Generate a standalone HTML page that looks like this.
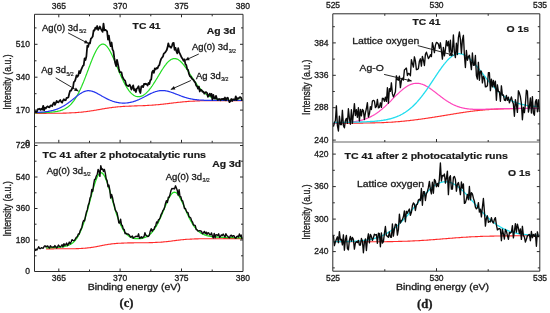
<!DOCTYPE html>
<html><head><meta charset="utf-8"><style>
html,body{margin:0;padding:0;background:#fff;width:550px;height:313px;overflow:hidden}
svg{display:block;filter:blur(0.35px)}
</style></head><body>
<svg width="550" height="313" viewBox="0 0 550 313">
<rect width="550" height="313" fill="#fff"/>
<polyline points="35.1,113.4 35.6,113.4 36.1,113.4 36.6,113.4 37.1,113.4 37.6,113.4 38.1,113.4 38.6,113.4 39.1,113.4 39.6,113.4 40.1,113.4 40.6,113.4 41.1,113.4 41.6,113.4 42.1,113.4 42.6,113.4 43.1,113.4 43.6,113.4 44.1,113.4 44.6,113.4 45.1,113.4 45.6,113.4 46.1,113.4 46.6,113.3 47.1,113.3 47.6,113.3 48.1,113.3 48.6,113.3 49.1,113.3 49.6,113.3 50.1,113.3 50.6,113.3 51.1,113.3 51.6,113.3 52.1,113.3 52.6,113.3 53.1,113.3 53.6,113.3 54.1,113.3 54.6,113.3 55.1,113.3 55.6,113.3 56.1,113.3 56.6,113.3 57.1,113.3 57.6,113.2 58.1,113.2 58.6,113.2 59.1,113.2 59.6,113.2 60.1,113.2 60.6,113.2 61.1,113.2 61.6,113.2 62.1,113.2 62.6,113.2 63.1,113.1 63.6,113.1 64.1,113.1 64.6,113.1 65.1,113.1 65.6,113.1 66.1,113.1 66.6,113.0 67.1,113.0 67.6,113.0 68.1,113.0 68.6,113.0 69.1,113.0 69.6,112.9 70.1,112.9 70.6,112.9 71.1,112.9 71.6,112.8 72.1,112.8 72.6,112.8 73.1,112.8 73.6,112.7 74.1,112.7 74.6,112.7 75.1,112.6 75.6,112.6 76.1,112.6 76.6,112.5 77.1,112.5 77.6,112.5 78.1,112.4 78.6,112.4 79.1,112.3 79.6,112.3 80.1,112.3 80.6,112.2 81.1,112.2 81.6,112.1 82.1,112.1 82.6,112.0 83.1,112.0 83.6,111.9 84.1,111.8 84.6,111.8 85.1,111.7 85.6,111.7 86.1,111.6 86.6,111.5 87.1,111.5 87.6,111.4 88.1,111.3 88.6,111.3 89.1,111.2 89.6,111.1 90.1,111.0 90.6,111.0 91.1,110.9 91.6,110.8 92.1,110.7 92.6,110.7 93.1,110.6 93.6,110.5 94.1,110.4 94.6,110.3 95.1,110.2 95.6,110.2 96.1,110.1 96.6,110.0 97.1,109.9 97.6,109.8 98.1,109.7 98.6,109.6 99.1,109.6 99.6,109.5 100.1,109.4 100.6,109.3 101.1,109.2 101.6,109.1 102.1,109.0 102.6,108.9 103.1,108.9 103.6,108.8 104.1,108.7 104.6,108.6 105.1,108.5 105.6,108.4 106.1,108.4 106.6,108.3 107.1,108.2 107.6,108.1 108.1,108.1 108.6,108.0 109.1,107.9 109.6,107.8 110.1,107.8 110.6,107.7 111.1,107.6 111.6,107.6 112.1,107.5 112.6,107.4 113.1,107.4 113.6,107.3 114.1,107.2 114.6,107.2 115.1,107.1 115.6,107.1 116.1,107.0 116.6,107.0 117.1,106.9 117.6,106.9 118.1,106.8 118.6,106.8 119.1,106.7 119.6,106.7 120.1,106.7 120.6,106.6 121.1,106.6 121.6,106.5 122.1,106.5 122.6,106.5 123.1,106.4 123.6,106.4 124.1,106.4 124.6,106.4 125.1,106.3 125.6,106.3 126.1,106.3 126.6,106.3 127.1,106.2 127.6,106.2 128.1,106.2 128.6,106.2 129.1,106.1 129.6,106.1 130.1,106.1 130.6,106.1 131.1,106.1 131.6,106.0 132.1,106.0 132.6,106.0 133.1,106.0 133.6,106.0 134.1,106.0 134.6,105.9 135.1,105.9 135.6,105.9 136.1,105.9 136.6,105.9 137.1,105.9 137.6,105.8 138.1,105.8 138.6,105.8 139.1,105.8 139.6,105.8 140.1,105.8 140.6,105.7 141.1,105.7 141.6,105.7 142.1,105.7 142.6,105.7 143.1,105.6 143.6,105.6 144.1,105.6 144.6,105.6 145.1,105.6 145.6,105.5 146.1,105.5 146.6,105.5 147.1,105.5 147.6,105.4 148.1,105.4 148.6,105.4 149.1,105.3 149.6,105.3 150.1,105.3 150.6,105.2 151.1,105.2 151.6,105.2 152.1,105.1 152.6,105.1 153.1,105.1 153.6,105.0 154.1,105.0 154.6,105.0 155.1,104.9 155.6,104.9 156.1,104.8 156.6,104.8 157.1,104.7 157.6,104.7 158.1,104.7 158.6,104.6 159.1,104.6 159.6,104.5 160.1,104.5 160.6,104.4 161.1,104.4 161.6,104.3 162.1,104.2 162.6,104.2 163.1,104.1 163.6,104.1 164.1,104.0 164.6,104.0 165.1,103.9 165.6,103.9 166.1,103.8 166.6,103.7 167.1,103.7 167.6,103.6 168.1,103.6 168.6,103.5 169.1,103.4 169.6,103.4 170.1,103.3 170.6,103.3 171.1,103.2 171.6,103.1 172.1,103.1 172.6,103.0 173.1,103.0 173.6,102.9 174.1,102.8 174.6,102.8 175.1,102.7 175.6,102.7 176.1,102.6 176.6,102.5 177.1,102.5 177.6,102.4 178.1,102.4 178.6,102.3 179.1,102.3 179.6,102.2 180.1,102.2 180.6,102.1 181.1,102.1 181.6,102.0 182.1,102.0 182.6,101.9 183.1,101.9 183.6,101.8 184.1,101.8 184.6,101.7 185.1,101.7 185.6,101.6 186.1,101.6 186.6,101.6 187.1,101.5 187.6,101.5 188.1,101.4 188.6,101.4 189.1,101.4 189.6,101.3 190.1,101.3 190.6,101.3 191.1,101.2 191.6,101.2 192.1,101.2 192.6,101.2 193.1,101.1 193.6,101.1 194.1,101.1 194.6,101.1 195.1,101.0 195.6,101.0 196.1,101.0 196.6,101.0 197.1,100.9 197.6,100.9 198.1,100.9 198.6,100.9 199.1,100.9 199.6,100.9 200.1,100.8 200.6,100.8 201.1,100.8 201.6,100.8 202.1,100.8 202.6,100.8 203.1,100.8 203.6,100.8 204.1,100.8 204.6,100.7 205.1,100.7 205.6,100.7 206.1,100.7 206.6,100.7 207.1,100.7 207.6,100.7 208.1,100.7 208.6,100.7 209.1,100.7 209.6,100.7 210.1,100.7 210.6,100.7 211.1,100.7 211.6,100.7 212.1,100.7 212.6,100.7 213.1,100.7 213.6,100.6 214.1,100.6 214.6,100.6 215.1,100.6 215.6,100.6 216.1,100.6 216.6,100.6 217.1,100.6 217.6,100.6 218.1,100.6 218.6,100.6 219.1,100.6 219.6,100.6 220.1,100.6 220.6,100.6 221.1,100.6 221.6,100.6 222.1,100.6 222.6,100.6 223.1,100.6 223.6,100.6 224.1,100.6 224.6,100.6 225.1,100.6 225.6,100.6 226.1,100.6 226.6,100.6 227.1,100.6 227.6,100.6 228.1,100.6 228.6,100.6 229.1,100.6 229.6,100.6 230.1,100.6 230.6,100.6 231.1,100.6 231.6,100.6 232.1,100.6 232.6,100.6 233.1,100.6 233.6,100.6 234.1,100.6 234.6,100.6 235.1,100.6 235.6,100.6 236.1,100.6 236.6,100.6 237.1,100.6 237.6,100.6 238.1,100.6 238.6,100.6 239.1,100.6 239.6,100.6 240.1,100.6 240.6,100.6 241.1,100.6 241.6,100.6 242.1,100.6 242.6,100.6" fill="none" stroke="#ff2a2a" stroke-width="1.1" stroke-linejoin="round"/>
<polyline points="35.1,112.8 35.6,112.8 36.1,112.8 36.6,112.8 37.1,112.8 37.6,112.7 38.1,112.7 38.6,112.7 39.1,112.7 39.6,112.7 40.1,112.7 40.6,112.7 41.1,112.7 41.6,112.6 42.1,112.6 42.6,112.6 43.1,112.6 43.6,112.6 44.1,112.6 44.6,112.5 45.1,112.5 45.6,112.5 46.1,112.5 46.6,112.4 47.1,112.4 47.6,112.4 48.1,112.4 48.6,112.3 49.1,112.3 49.6,112.3 50.1,112.2 50.6,112.2 51.1,112.2 51.6,112.1 52.1,112.1 52.6,112.0 53.1,112.0 53.6,111.9 54.1,111.9 54.6,111.8 55.1,111.7 55.6,111.7 56.1,111.6 56.6,111.5 57.1,111.4 57.6,111.3 58.1,111.2 58.6,111.1 59.1,111.0 59.6,110.9 60.1,110.7 60.6,110.6 61.1,110.4 61.6,110.2 62.1,110.1 62.6,109.9 63.1,109.7 63.6,109.5 64.1,109.2 64.6,109.0 65.1,108.7 65.6,108.4 66.1,108.2 66.6,107.8 67.1,107.5 67.6,107.2 68.1,106.8 68.6,106.4 69.1,106.0 69.6,105.5 70.1,105.1 70.6,104.6 71.1,104.1 71.6,103.5 72.1,102.9 72.6,102.3 73.1,101.7 73.6,101.1 74.1,100.4 74.6,99.7 75.1,98.9 75.6,98.2 76.1,97.3 76.6,96.5 77.1,95.6 77.6,94.7 78.1,93.8 78.6,92.9 79.1,91.9 79.6,90.8 80.1,89.8 80.6,88.7 81.1,87.6 81.6,86.5 82.1,85.3 82.6,84.1 83.1,82.9 83.6,81.7 84.1,80.4 84.6,79.2 85.1,77.9 85.6,76.6 86.1,75.3 86.6,74.0 87.1,72.6 87.6,71.3 88.1,70.0 88.6,68.6 89.1,67.3 89.6,66.0 90.1,64.6 90.6,63.3 91.1,62.0 91.6,60.8 92.1,59.5 92.6,58.3 93.1,57.1 93.6,55.9 94.1,54.8 94.6,53.7 95.1,52.7 95.6,51.7 96.1,50.7 96.6,49.8 97.1,49.0 97.6,48.2 98.1,47.5 98.6,46.8 99.1,46.2 99.6,45.7 100.1,45.2 100.6,44.9 101.1,44.6 101.6,44.3 102.1,44.2 102.6,44.1 103.1,44.1 103.6,44.2 104.1,44.3 104.6,44.5 105.1,44.8 105.6,45.2 106.1,45.6 106.6,46.1 107.1,46.7 107.6,47.3 108.1,48.0 108.6,48.7 109.1,49.5 109.6,50.4 110.1,51.3 110.6,52.2 111.1,53.2 111.6,54.2 112.1,55.3 112.6,56.4 113.1,57.5 113.6,58.6 114.1,59.8 114.6,60.9 115.1,62.1 115.6,63.3 116.1,64.5 116.6,65.7 117.1,66.9 117.6,68.1 118.1,69.3 118.6,70.5 119.1,71.7 119.6,72.9 120.1,74.1 120.6,75.2 121.1,76.3 121.6,77.4 122.1,78.5 122.6,79.6 123.1,80.6 123.6,81.7 124.1,82.6 124.6,83.6 125.1,84.5 125.6,85.4 126.1,86.3 126.6,87.1 127.1,87.9 127.6,88.7 128.1,89.4 128.6,90.1 129.1,90.8 129.6,91.4 130.1,92.0 130.6,92.6 131.1,93.1 131.6,93.6 132.1,94.0 132.6,94.4 133.1,94.8 133.6,95.2 134.1,95.5 134.6,95.8 135.1,96.0 135.6,96.2 136.1,96.4 136.6,96.5 137.1,96.6 137.6,96.7 138.1,96.7 138.6,96.7 139.1,96.7 139.6,96.7 140.1,96.6 140.6,96.4 141.1,96.3 141.6,96.1 142.1,95.9 142.6,95.7 143.1,95.4 143.6,95.1 144.1,94.7 144.6,94.4 145.1,94.0 145.6,93.6 146.1,93.1 146.6,92.7 147.1,92.2 147.6,91.7 148.1,91.1 148.6,90.6 149.1,90.0 149.6,89.4 150.1,88.7 150.6,88.1 151.1,87.4 151.6,86.7 152.1,86.0 152.6,85.2 153.1,84.5 153.6,83.7 154.1,82.9 154.6,82.2 155.1,81.4 155.6,80.5 156.1,79.7 156.6,78.9 157.1,78.1 157.6,77.2 158.1,76.4 158.6,75.6 159.1,74.7 159.6,73.9 160.1,73.1 160.6,72.2 161.1,71.4 161.6,70.6 162.1,69.8 162.6,69.0 163.1,68.3 163.6,67.5 164.1,66.8 164.6,66.1 165.1,65.4 165.6,64.8 166.1,64.1 166.6,63.5 167.1,62.9 167.6,62.4 168.1,61.9 168.6,61.4 169.1,61.0 169.6,60.6 170.1,60.2 170.6,59.8 171.1,59.5 171.6,59.3 172.1,59.1 172.6,58.9 173.1,58.7 173.6,58.7 174.1,58.6 174.6,58.6 175.1,58.6 175.6,58.7 176.1,58.8 176.6,58.9 177.1,59.1 177.6,59.3 178.1,59.6 178.6,59.9 179.1,60.3 179.6,60.6 180.1,61.0 180.6,61.5 181.1,62.0 181.6,62.5 182.1,63.0 182.6,63.6 183.1,64.2 183.6,64.8 184.1,65.4 184.6,66.1 185.1,66.8 185.6,67.5 186.1,68.2 186.6,68.9 187.1,69.6 187.6,70.4 188.1,71.2 188.6,71.9 189.1,72.7 189.6,73.5 190.1,74.3 190.6,75.0 191.1,75.8 191.6,76.6 192.1,77.4 192.6,78.2 193.1,78.9 193.6,79.7 194.1,80.5 194.6,81.2 195.1,81.9 195.6,82.7 196.1,83.4 196.6,84.1 197.1,84.8 197.6,85.4 198.1,86.1 198.6,86.7 199.1,87.3 199.6,87.9 200.1,88.5 200.6,89.1 201.1,89.7 201.6,90.2 202.1,90.7 202.6,91.2 203.1,91.7 203.6,92.2 204.1,92.6 204.6,93.1 205.1,93.5 205.6,93.9 206.1,94.2 206.6,94.6 207.1,95.0 207.6,95.3 208.1,95.6 208.6,95.9 209.1,96.2 209.6,96.5 210.1,96.7 210.6,97.0 211.1,97.2 211.6,97.4 212.1,97.6 212.6,97.8 213.1,98.0 213.6,98.2 214.1,98.3 214.6,98.5 215.1,98.6 215.6,98.8 216.1,98.9 216.6,99.0 217.1,99.1 217.6,99.2 218.1,99.3 218.6,99.4 219.1,99.5 219.6,99.6 220.1,99.6 220.6,99.7 221.1,99.8 221.6,99.8 222.1,99.9 222.6,99.9 223.1,100.0 223.6,100.0 224.1,100.0 224.6,100.1 225.1,100.1 225.6,100.1 226.1,100.2 226.6,100.2 227.1,100.2 227.6,100.2 228.1,100.3 228.6,100.3 229.1,100.3 229.6,100.3 230.1,100.3 230.6,100.3 231.1,100.3 231.6,100.4 232.1,100.4 232.6,100.4 233.1,100.4 233.6,100.4 234.1,100.4 234.6,100.4 235.1,100.4 235.6,100.4 236.1,100.4 236.6,100.4 237.1,100.4 237.6,100.4 238.1,100.4 238.6,100.4 239.1,100.4 239.6,100.4 240.1,100.4 240.6,100.4 241.1,100.4 241.6,100.4 242.1,100.4 242.6,100.5" fill="none" stroke="#22dd22" stroke-width="1.2" stroke-linejoin="round"/>
<polyline points="35.1,112.5 35.6,112.5 36.1,112.5 36.6,112.4 37.1,112.4 37.6,112.4 38.1,112.4 38.6,112.3 39.1,112.3 39.6,112.3 40.1,112.2 40.6,112.2 41.1,112.2 41.6,112.1 42.1,112.1 42.6,112.0 43.1,112.0 43.6,112.0 44.1,111.9 44.6,111.8 45.1,111.8 45.6,111.7 46.1,111.7 46.6,111.6 47.1,111.5 47.6,111.5 48.1,111.4 48.6,111.3 49.1,111.2 49.6,111.1 50.1,111.0 50.6,110.9 51.1,110.8 51.6,110.7 52.1,110.6 52.6,110.5 53.1,110.4 53.6,110.2 54.1,110.1 54.6,109.9 55.1,109.8 55.6,109.6 56.1,109.5 56.6,109.3 57.1,109.1 57.6,108.9 58.1,108.7 58.6,108.5 59.1,108.3 59.6,108.1 60.1,107.8 60.6,107.6 61.1,107.4 61.6,107.1 62.1,106.8 62.6,106.6 63.1,106.3 63.6,106.0 64.1,105.7 64.6,105.4 65.1,105.1 65.6,104.8 66.1,104.4 66.6,104.1 67.1,103.8 67.6,103.4 68.1,103.1 68.6,102.7 69.1,102.3 69.6,101.9 70.1,101.6 70.6,101.2 71.1,100.8 71.6,100.4 72.1,100.0 72.6,99.6 73.1,99.2 73.6,98.8 74.1,98.4 74.6,98.0 75.1,97.6 75.6,97.2 76.1,96.8 76.6,96.4 77.1,96.0 77.6,95.6 78.1,95.2 78.6,94.8 79.1,94.5 79.6,94.1 80.1,93.8 80.6,93.5 81.1,93.2 81.6,92.9 82.1,92.6 82.6,92.3 83.1,92.1 83.6,91.8 84.1,91.6 84.6,91.4 85.1,91.3 85.6,91.1 86.1,91.0 86.6,90.9 87.1,90.8 87.6,90.7 88.1,90.7 88.6,90.7 89.1,90.7 89.6,90.8 90.1,90.8 90.6,90.9 91.1,91.0 91.6,91.1 92.1,91.2 92.6,91.4 93.1,91.6 93.6,91.7 94.1,91.9 94.6,92.1 95.1,92.4 95.6,92.6 96.1,92.8 96.6,93.1 97.1,93.4 97.6,93.6 98.1,93.9 98.6,94.2 99.1,94.4 99.6,94.7 100.1,95.0 100.6,95.3 101.1,95.6 101.6,95.9 102.1,96.2 102.6,96.5 103.1,96.7 103.6,97.0 104.1,97.3 104.6,97.6 105.1,97.8 105.6,98.1 106.1,98.4 106.6,98.6 107.1,98.9 107.6,99.1 108.1,99.4 108.6,99.6 109.1,99.8 109.6,100.0 110.1,100.2 110.6,100.5 111.1,100.6 111.6,100.8 112.1,101.0 112.6,101.2 113.1,101.4 113.6,101.5 114.1,101.7 114.6,101.8 115.1,102.0 115.6,102.1 116.1,102.2 116.6,102.3 117.1,102.4 117.6,102.5 118.1,102.6 118.6,102.7 119.1,102.8 119.6,102.8 120.1,102.9 120.6,103.0 121.1,103.0 121.6,103.0 122.1,103.1 122.6,103.1 123.1,103.1 123.6,103.1 124.1,103.1 124.6,103.1 125.1,103.1 125.6,103.0 126.1,103.0 126.6,103.0 127.1,102.9 127.6,102.9 128.1,102.8 128.6,102.7 129.1,102.6 129.6,102.5 130.1,102.4 130.6,102.3 131.1,102.2 131.6,102.1 132.1,102.0 132.6,101.9 133.1,101.7 133.6,101.6 134.1,101.4 134.6,101.2 135.1,101.1 135.6,100.9 136.1,100.7 136.6,100.5 137.1,100.3 137.6,100.1 138.1,99.9 138.6,99.7 139.1,99.5 139.6,99.2 140.1,99.0 140.6,98.8 141.1,98.5 141.6,98.3 142.1,98.0 142.6,97.8 143.1,97.5 143.6,97.2 144.1,97.0 144.6,96.7 145.1,96.5 145.6,96.2 146.1,95.9 146.6,95.7 147.1,95.4 147.6,95.1 148.1,94.9 148.6,94.6 149.1,94.4 149.6,94.1 150.1,93.9 150.6,93.6 151.1,93.4 151.6,93.2 152.1,93.0 152.6,92.8 153.1,92.5 153.6,92.3 154.1,92.2 154.6,92.0 155.1,91.8 155.6,91.6 156.1,91.5 156.6,91.4 157.1,91.2 157.6,91.1 158.1,91.0 158.6,90.9 159.1,90.8 159.6,90.7 160.1,90.7 160.6,90.6 161.1,90.6 161.6,90.6 162.1,90.6 162.6,90.6 163.1,90.6 163.6,90.6 164.1,90.6 164.6,90.7 165.1,90.7 165.6,90.8 166.1,90.9 166.6,91.0 167.1,91.1 167.6,91.2 168.1,91.3 168.6,91.4 169.1,91.6 169.6,91.7 170.1,91.9 170.6,92.0 171.1,92.2 171.6,92.4 172.1,92.5 172.6,92.7 173.1,92.9 173.6,93.1 174.1,93.3 174.6,93.5 175.1,93.7 175.6,93.9 176.1,94.1 176.6,94.3 177.1,94.5 177.6,94.6 178.1,94.8 178.6,95.0 179.1,95.2 179.6,95.4 180.1,95.6 180.6,95.8 181.1,96.0 181.6,96.2 182.1,96.4 182.6,96.6 183.1,96.7 183.6,96.9 184.1,97.1 184.6,97.2 185.1,97.4 185.6,97.5 186.1,97.7 186.6,97.8 187.1,98.0 187.6,98.1 188.1,98.2 188.6,98.4 189.1,98.5 189.6,98.6 190.1,98.7 190.6,98.8 191.1,98.9 191.6,99.0 192.1,99.1 192.6,99.2 193.1,99.3 193.6,99.3 194.1,99.4 194.6,99.5 195.1,99.6 195.6,99.6 196.1,99.7 196.6,99.7 197.1,99.8 197.6,99.8 198.1,99.9 198.6,99.9 199.1,100.0 199.6,100.0 200.1,100.0 200.6,100.1 201.1,100.1 201.6,100.1 202.1,100.2 202.6,100.2 203.1,100.2 203.6,100.2 204.1,100.3 204.6,100.3 205.1,100.3 205.6,100.3 206.1,100.3 206.6,100.3 207.1,100.3 207.6,100.4 208.1,100.4 208.6,100.4 209.1,100.4 209.6,100.4 210.1,100.4 210.6,100.4 211.1,100.4 211.6,100.4 212.1,100.4 212.6,100.4 213.1,100.4 213.6,100.4 214.1,100.4 214.6,100.4 215.1,100.5 215.6,100.5 216.1,100.5 216.6,100.5 217.1,100.5 217.6,100.5 218.1,100.5 218.6,100.5 219.1,100.5 219.6,100.5 220.1,100.5 220.6,100.5 221.1,100.5 221.6,100.5 222.1,100.5 222.6,100.5 223.1,100.5 223.6,100.5 224.1,100.5 224.6,100.5 225.1,100.5 225.6,100.5 226.1,100.5 226.6,100.5 227.1,100.5 227.6,100.5 228.1,100.5 228.6,100.5 229.1,100.5 229.6,100.5 230.1,100.5 230.6,100.5 231.1,100.5 231.6,100.5 232.1,100.5 232.6,100.5 233.1,100.5 233.6,100.5 234.1,100.5 234.6,100.5 235.1,100.5 235.6,100.5 236.1,100.5 236.6,100.5 237.1,100.5 237.6,100.5 238.1,100.5 238.6,100.5 239.1,100.5 239.6,100.5 240.1,100.5 240.6,100.5 241.1,100.5 241.6,100.5 242.1,100.5 242.6,100.5" fill="none" stroke="#2233ee" stroke-width="1.2" stroke-linejoin="round"/>
<polyline points="35.1,110.6 36.0,112.2 36.9,111.8 37.8,109.2 38.7,109.2 39.6,108.7 40.5,109.9 41.4,108.8 42.3,109.6 43.2,105.8 44.1,110.2 45.0,107.6 45.9,108.4 46.8,106.9 47.7,106.3 48.6,107.2 49.5,107.4 50.4,105.6 51.3,105.3 52.2,106.2 53.1,103.7 54.0,102.4 54.9,104.9 55.8,103.1 56.7,100.9 57.6,102.2 58.5,102.4 59.4,100.9 60.3,100.0 61.2,101.9 62.1,102.7 63.0,100.5 63.9,99.2 64.8,100.3 65.7,100.2 66.6,97.8 67.5,97.9 68.4,97.2 69.3,93.5 70.2,90.6 71.1,90.7 72.0,88.6 72.9,88.3 73.8,82.2 74.7,81.4 75.6,79.1 76.5,75.3 77.4,76.8 78.3,75.5 79.2,71.0 80.1,73.2 81.0,70.2 81.9,68.1 82.8,66.0 83.7,65.3 84.6,58.4 85.5,60.1 86.4,56.2 87.3,45.7 88.2,46.8 89.1,42.9 90.0,43.3 90.9,38.6 91.8,37.8 92.7,36.5 93.6,30.4 94.5,30.6 95.4,27.6 96.3,28.8 97.2,26.0 98.1,29.9 99.0,28.6 99.9,26.5 100.8,28.6 101.7,30.4 102.6,31.9 103.5,23.7 104.4,30.3 105.3,29.8 106.2,30.4 107.1,31.3 108.0,39.6 108.9,35.7 109.8,42.2 110.7,46.2 111.6,42.5 112.5,49.4 113.4,51.1 114.3,57.9 115.2,63.1 116.1,66.1 117.0,59.8 117.9,64.0 118.8,68.4 119.7,72.2 120.6,72.1 121.5,72.3 122.4,76.8 123.3,78.4 124.2,79.9 125.1,80.6 126.0,84.3 126.9,85.5 127.8,85.8 128.7,86.1 129.6,84.6 130.5,86.4 131.4,89.6 132.3,87.4 133.2,85.4 134.1,90.4 135.0,89.1 135.9,92.0 136.8,88.6 137.7,87.8 138.6,86.2 139.5,91.0 140.4,93.0 141.3,86.4 142.2,85.9 143.1,87.2 144.0,83.9 144.9,84.3 145.8,83.7 146.7,84.3 147.6,85.5 148.5,83.0 149.4,84.0 150.3,80.3 151.2,79.6 152.1,72.2 153.0,70.7 153.9,72.8 154.8,68.4 155.7,69.3 156.6,68.0 157.5,68.4 158.4,66.1 159.3,65.2 160.2,61.6 161.1,59.0 162.0,57.6 162.9,56.7 163.8,53.6 164.7,52.8 165.6,51.8 166.5,50.6 167.4,47.9 168.3,43.3 169.2,46.6 170.1,46.5 171.0,47.8 171.9,46.1 172.8,43.0 173.7,42.9 174.6,49.8 175.5,47.8 176.4,51.4 177.3,53.4 178.2,48.1 179.1,52.2 180.0,53.9 180.9,55.9 181.8,57.8 182.7,59.0 183.6,60.8 184.5,59.3 185.4,64.2 186.3,65.2 187.2,69.1 188.1,69.9 189.0,74.0 189.9,76.2 190.8,76.8 191.7,78.4 192.6,79.4 193.5,79.8 194.4,81.7 195.3,82.5 196.2,85.5 197.1,86.3 198.0,88.6 198.9,86.6 199.8,91.5 200.7,89.6 201.6,90.3 202.5,91.8 203.4,91.7 204.3,93.6 205.2,92.6 206.1,92.1 207.0,92.9 207.9,96.8 208.8,95.1 209.7,93.6 210.6,95.9 211.5,93.8 212.4,99.6 213.3,94.8 214.2,98.3 215.1,98.7 216.0,95.8 216.9,98.8 217.8,100.0 218.7,99.2 219.6,99.0 220.5,100.2 221.4,99.0 222.3,99.3 223.2,98.6 224.1,99.9 225.0,97.5 225.9,100.3 226.8,98.3 227.7,97.6 228.6,100.0 229.5,102.2 230.4,101.2 231.3,99.0 232.2,101.0 233.1,99.2 234.0,99.7 234.9,100.0 235.8,96.3 236.7,100.1 237.6,98.2 238.5,98.7 239.4,97.4 240.3,97.2 241.2,98.0 242.1,100.6" fill="none" stroke="#0a0a0a" stroke-width="1.75" stroke-linejoin="round"/>
<polyline points="46.1,248.9 46.6,248.9 47.1,248.9 47.6,248.9 48.1,248.9 48.6,248.9 49.1,248.9 49.6,248.9 50.1,248.9 50.6,248.9 51.1,248.9 51.6,248.9 52.1,248.9 52.6,248.9 53.1,248.9 53.6,248.9 54.1,248.8 54.6,248.8 55.1,248.8 55.6,248.8 56.1,248.8 56.6,248.8 57.1,248.8 57.6,248.8 58.1,248.8 58.6,248.8 59.1,248.8 59.6,248.8 60.1,248.8 60.6,248.8 61.1,248.8 61.6,248.8 62.1,248.8 62.6,248.8 63.1,248.8 63.6,248.8 64.1,248.8 64.6,248.8 65.1,248.8 65.6,248.8 66.1,248.8 66.6,248.8 67.1,248.8 67.6,248.8 68.1,248.8 68.6,248.8 69.1,248.8 69.6,248.8 70.1,248.8 70.6,248.7 71.1,248.7 71.6,248.7 72.1,248.7 72.6,248.7 73.1,248.7 73.6,248.7 74.1,248.7 74.6,248.7 75.1,248.7 75.6,248.7 76.1,248.6 76.6,248.6 77.1,248.6 77.6,248.6 78.1,248.6 78.6,248.6 79.1,248.5 79.6,248.5 80.1,248.5 80.6,248.5 81.1,248.5 81.6,248.4 82.1,248.4 82.6,248.4 83.1,248.3 83.6,248.3 84.1,248.3 84.6,248.2 85.1,248.2 85.6,248.1 86.1,248.1 86.6,248.0 87.1,248.0 87.6,247.9 88.1,247.9 88.6,247.8 89.1,247.8 89.6,247.7 90.1,247.6 90.6,247.6 91.1,247.5 91.6,247.4 92.1,247.4 92.6,247.3 93.1,247.2 93.6,247.1 94.1,247.0 94.6,247.0 95.1,246.9 95.6,246.8 96.1,246.7 96.6,246.6 97.1,246.5 97.6,246.4 98.1,246.3 98.6,246.2 99.1,246.1 99.6,246.0 100.1,245.9 100.6,245.8 101.1,245.7 101.6,245.6 102.1,245.5 102.6,245.4 103.1,245.3 103.6,245.2 104.1,245.1 104.6,245.0 105.1,244.9 105.6,244.8 106.1,244.8 106.6,244.7 107.1,244.6 107.6,244.5 108.1,244.4 108.6,244.3 109.1,244.3 109.6,244.2 110.1,244.1 110.6,244.1 111.1,244.0 111.6,243.9 112.1,243.9 112.6,243.8 113.1,243.8 113.6,243.7 114.1,243.6 114.6,243.6 115.1,243.6 115.6,243.5 116.1,243.5 116.6,243.4 117.1,243.4 117.6,243.4 118.1,243.3 118.6,243.3 119.1,243.3 119.6,243.2 120.1,243.2 120.6,243.2 121.1,243.2 121.6,243.1 122.1,243.1 122.6,243.1 123.1,243.1 123.6,243.1 124.1,243.0 124.6,243.0 125.1,243.0 125.6,243.0 126.1,243.0 126.6,243.0 127.1,243.0 127.6,242.9 128.1,242.9 128.6,242.9 129.1,242.9 129.6,242.9 130.1,242.9 130.6,242.9 131.1,242.9 131.6,242.9 132.1,242.9 132.6,242.9 133.1,242.9 133.6,242.9 134.1,242.8 134.6,242.8 135.1,242.8 135.6,242.8 136.1,242.8 136.6,242.8 137.1,242.8 137.6,242.8 138.1,242.8 138.6,242.8 139.1,242.8 139.6,242.8 140.1,242.8 140.6,242.8 141.1,242.8 141.6,242.8 142.1,242.8 142.6,242.7 143.1,242.7 143.6,242.7 144.1,242.7 144.6,242.7 145.1,242.7 145.6,242.7 146.1,242.7 146.6,242.7 147.1,242.7 147.6,242.7 148.1,242.7 148.6,242.7 149.1,242.6 149.6,242.6 150.1,242.6 150.6,242.6 151.1,242.6 151.6,242.6 152.1,242.6 152.6,242.6 153.1,242.5 153.6,242.5 154.1,242.5 154.6,242.5 155.1,242.5 155.6,242.4 156.1,242.4 156.6,242.4 157.1,242.4 157.6,242.3 158.1,242.3 158.6,242.3 159.1,242.3 159.6,242.2 160.1,242.2 160.6,242.2 161.1,242.1 161.6,242.1 162.1,242.1 162.6,242.0 163.1,242.0 163.6,241.9 164.1,241.9 164.6,241.8 165.1,241.8 165.6,241.7 166.1,241.7 166.6,241.6 167.1,241.6 167.6,241.5 168.1,241.5 168.6,241.4 169.1,241.4 169.6,241.3 170.1,241.2 170.6,241.2 171.1,241.1 171.6,241.0 172.1,241.0 172.6,240.9 173.1,240.8 173.6,240.8 174.1,240.7 174.6,240.6 175.1,240.6 175.6,240.5 176.1,240.4 176.6,240.4 177.1,240.3 177.6,240.3 178.1,240.2 178.6,240.1 179.1,240.1 179.6,240.0 180.1,240.0 180.6,239.9 181.1,239.8 181.6,239.8 182.1,239.7 182.6,239.7 183.1,239.6 183.6,239.6 184.1,239.5 184.6,239.5 185.1,239.5 185.6,239.4 186.1,239.4 186.6,239.3 187.1,239.3 187.6,239.3 188.1,239.2 188.6,239.2 189.1,239.2 189.6,239.2 190.1,239.1 190.6,239.1 191.1,239.1 191.6,239.1 192.1,239.0 192.6,239.0 193.1,239.0 193.6,239.0 194.1,239.0 194.6,238.9 195.1,238.9 195.6,238.9 196.1,238.9 196.6,238.9 197.1,238.9 197.6,238.9 198.1,238.9 198.6,238.8 199.1,238.8 199.6,238.8 200.1,238.8 200.6,238.8 201.1,238.8 201.6,238.8 202.1,238.8 202.6,238.8 203.1,238.8 203.6,238.8 204.1,238.8 204.6,238.8 205.1,238.8 205.6,238.7 206.1,238.7 206.6,238.7 207.1,238.7 207.6,238.7 208.1,238.7 208.6,238.7 209.1,238.7 209.6,238.7 210.1,238.7 210.6,238.7 211.1,238.7 211.6,238.7 212.1,238.7 212.6,238.7 213.1,238.7 213.6,238.7 214.1,238.7 214.6,238.7 215.1,238.7 215.6,238.7 216.1,238.7 216.6,238.7 217.1,238.7 217.6,238.7 218.1,238.7 218.6,238.7 219.1,238.7 219.6,238.7 220.1,238.7 220.6,238.7 221.1,238.7 221.6,238.7 222.1,238.7 222.6,238.7 223.1,238.7 223.6,238.6 224.1,238.6 224.6,238.6 225.1,238.6 225.6,238.6 226.1,238.6 226.6,238.6 227.1,238.6 227.6,238.6 228.1,238.6 228.6,238.6 229.1,238.6 229.6,238.6 230.1,238.6 230.6,238.6 231.1,238.6 231.6,238.6 232.1,238.6 232.6,238.6 233.1,238.6 233.6,238.6 234.1,238.6 234.6,238.6 235.1,238.6 235.6,238.6 236.1,238.6 236.6,238.6 237.1,238.6 237.6,238.6 238.1,238.6 238.6,238.6 239.1,238.6 239.6,238.6 240.1,238.6 240.6,238.6 241.1,238.6 241.6,238.6 242.1,238.6 242.6,238.6" fill="none" stroke="#ff2a2a" stroke-width="1.1" stroke-linejoin="round"/>
<polyline points="46.1,247.9 46.6,247.9 47.1,247.9 47.6,247.9 48.1,247.8 48.6,247.8 49.1,247.8 49.6,247.8 50.1,247.8 50.6,247.7 51.1,247.7 51.6,247.7 52.1,247.7 52.6,247.6 53.1,247.6 53.6,247.6 54.1,247.6 54.6,247.5 55.1,247.5 55.6,247.5 56.1,247.4 56.6,247.4 57.1,247.4 57.6,247.3 58.1,247.3 58.6,247.3 59.1,247.2 59.6,247.2 60.1,247.1 60.6,247.1 61.1,247.0 61.6,246.9 62.1,246.9 62.6,246.8 63.1,246.7 63.6,246.6 64.1,246.5 64.6,246.4 65.1,246.3 65.6,246.2 66.1,246.1 66.6,245.9 67.1,245.8 67.6,245.6 68.1,245.4 68.6,245.2 69.1,245.0 69.6,244.8 70.1,244.5 70.6,244.3 71.1,244.0 71.6,243.6 72.1,243.3 72.6,242.9 73.1,242.5 73.6,242.0 74.1,241.5 74.6,241.0 75.1,240.4 75.6,239.8 76.1,239.2 76.6,238.5 77.1,237.8 77.6,237.0 78.1,236.1 78.6,235.2 79.1,234.3 79.6,233.3 80.1,232.2 80.6,231.1 81.1,229.9 81.6,228.7 82.1,227.4 82.6,226.1 83.1,224.7 83.6,223.2 84.1,221.7 84.6,220.1 85.1,218.5 85.6,216.8 86.1,215.1 86.6,213.4 87.1,211.6 87.6,209.8 88.1,207.9 88.6,206.0 89.1,204.1 89.6,202.2 90.1,200.3 90.6,198.4 91.1,196.5 91.6,194.6 92.1,192.7 92.6,190.9 93.1,189.1 93.6,187.4 94.1,185.7 94.6,184.0 95.1,182.5 95.6,181.0 96.1,179.7 96.6,178.4 97.1,177.2 97.6,176.2 98.1,175.3 98.6,174.5 99.1,173.9 99.6,173.4 100.1,173.0 100.6,172.8 101.1,172.7 101.6,172.8 102.1,173.1 102.6,173.4 103.1,174.0 103.6,174.6 104.1,175.4 104.6,176.3 105.1,177.3 105.6,178.5 106.1,179.7 106.6,181.0 107.1,182.4 107.6,183.9 108.1,185.4 108.6,187.0 109.1,188.7 109.6,190.4 110.1,192.1 110.6,193.9 111.1,195.6 111.6,197.4 112.1,199.2 112.6,200.9 113.1,202.7 113.6,204.4 114.1,206.1 114.6,207.8 115.1,209.5 115.6,211.1 116.1,212.7 116.6,214.2 117.1,215.7 117.6,217.2 118.1,218.6 118.6,219.9 119.1,221.2 119.6,222.4 120.1,223.6 120.6,224.7 121.1,225.8 121.6,226.8 122.1,227.8 122.6,228.7 123.1,229.5 123.6,230.4 124.1,231.1 124.6,231.8 125.1,232.5 125.6,233.1 126.1,233.7 126.6,234.2 127.1,234.7 127.6,235.1 128.1,235.5 128.6,235.9 129.1,236.3 129.6,236.6 130.1,236.9 130.6,237.1 131.1,237.4 131.6,237.6 132.1,237.8 132.6,238.0 133.1,238.1 133.6,238.2 134.1,238.4 134.6,238.5 135.1,238.5 135.6,238.6 136.1,238.7 136.6,238.7 137.1,238.7 137.6,238.7 138.1,238.7 138.6,238.7 139.1,238.7 139.6,238.6 140.1,238.6 140.6,238.5 141.1,238.5 141.6,238.4 142.1,238.3 142.6,238.2 143.1,238.0 143.6,237.9 144.1,237.7 144.6,237.5 145.1,237.3 145.6,237.1 146.1,236.9 146.6,236.6 147.1,236.3 147.6,236.0 148.1,235.7 148.6,235.4 149.1,235.0 149.6,234.6 150.1,234.1 150.6,233.7 151.1,233.2 151.6,232.7 152.1,232.1 152.6,231.5 153.1,230.9 153.6,230.2 154.1,229.5 154.6,228.8 155.1,228.0 155.6,227.2 156.1,226.4 156.6,225.5 157.1,224.6 157.6,223.7 158.1,222.7 158.6,221.7 159.1,220.7 159.6,219.6 160.1,218.5 160.6,217.4 161.1,216.2 161.6,215.1 162.1,213.9 162.6,212.7 163.1,211.5 163.6,210.2 164.1,209.0 164.6,207.8 165.1,206.6 165.6,205.4 166.1,204.2 166.6,203.0 167.1,201.9 167.6,200.8 168.1,199.7 168.6,198.7 169.1,197.7 169.6,196.8 170.1,196.0 170.6,195.2 171.1,194.5 171.6,193.9 172.1,193.4 172.6,193.0 173.1,192.6 173.6,192.4 174.1,192.3 174.6,192.2 175.1,192.3 175.6,192.5 176.1,192.7 176.6,193.1 177.1,193.6 177.6,194.1 178.1,194.7 178.6,195.4 179.1,196.2 179.6,197.0 180.1,197.9 180.6,198.9 181.1,199.9 181.6,200.9 182.1,202.0 182.6,203.1 183.1,204.2 183.6,205.3 184.1,206.4 184.6,207.6 185.1,208.7 185.6,209.9 186.1,211.0 186.6,212.2 187.1,213.3 187.6,214.4 188.1,215.5 188.6,216.5 189.1,217.6 189.6,218.6 190.1,219.5 190.6,220.5 191.1,221.4 191.6,222.3 192.1,223.2 192.6,224.0 193.1,224.8 193.6,225.5 194.1,226.3 194.6,227.0 195.1,227.6 195.6,228.2 196.1,228.8 196.6,229.4 197.1,229.9 197.6,230.4 198.1,230.9 198.6,231.3 199.1,231.8 199.6,232.2 200.1,232.5 200.6,232.9 201.1,233.2 201.6,233.5 202.1,233.8 202.6,234.0 203.1,234.3 203.6,234.5 204.1,234.7 204.6,234.9 205.1,235.1 205.6,235.2 206.1,235.4 206.6,235.5 207.1,235.7 207.6,235.8 208.1,235.9 208.6,236.0 209.1,236.1 209.6,236.2 210.1,236.3 210.6,236.4 211.1,236.4 211.6,236.5 212.1,236.6 212.6,236.6 213.1,236.7 213.6,236.7 214.1,236.8 214.6,236.8 215.1,236.9 215.6,236.9 216.1,237.0 216.6,237.0 217.1,237.0 217.6,237.1 218.1,237.1 218.6,237.1 219.1,237.2 219.6,237.2 220.1,237.2 220.6,237.3 221.1,237.3 221.6,237.3 222.1,237.3 222.6,237.3 223.1,237.4 223.6,237.4 224.1,237.4 224.6,237.4 225.1,237.4 225.6,237.5 226.1,237.5 226.6,237.5 227.1,237.5 227.6,237.5 228.1,237.6 228.6,237.6 229.1,237.6 229.6,237.6 230.1,237.6 230.6,237.6 231.1,237.6 231.6,237.7 232.1,237.7 232.6,237.7 233.1,237.7 233.6,237.7 234.1,237.7 234.6,237.7 235.1,237.7 235.6,237.8 236.1,237.8 236.6,237.8 237.1,237.8 237.6,237.8 238.1,237.8 238.6,237.8 239.1,237.8 239.6,237.8 240.1,237.8 240.6,237.9 241.1,237.9 241.6,237.9 242.1,237.9 242.6,237.9" fill="none" stroke="#22dd22" stroke-width="1.3" stroke-linejoin="round"/>
<polyline points="35.1,250.9 36.0,249.1 36.9,250.0 37.8,248.5 38.7,246.7 39.6,248.5 40.5,248.6 41.4,247.6 42.3,248.1 43.2,248.2 44.1,246.6 45.0,245.8 45.9,246.9 46.8,246.2 47.7,246.0 48.6,247.3 49.5,248.1 50.4,245.8 51.3,246.9 52.2,247.1 53.1,246.9 54.0,247.2 54.9,245.6 55.8,246.7 56.7,248.0 57.6,246.7 58.5,245.1 59.4,246.3 60.3,246.9 61.2,245.9 62.1,244.8 63.0,246.9 63.9,243.7 64.8,245.4 65.7,244.7 66.6,243.1 67.5,245.5 68.4,244.2 69.3,242.1 70.2,243.6 71.1,242.0 72.0,239.7 72.9,240.3 73.8,240.6 74.7,240.1 75.6,238.5 76.5,237.2 77.4,236.4 78.3,234.0 79.2,234.1 80.1,230.9 81.0,229.1 81.9,227.2 82.8,222.5 83.7,220.4 84.6,220.9 85.5,216.2 86.4,212.1 87.3,209.9 88.2,205.2 89.1,203.1 90.0,198.0 90.9,196.2 91.8,189.4 92.7,191.5 93.6,184.7 94.5,179.5 95.4,179.2 96.3,176.0 97.2,174.5 98.1,169.4 99.0,170.8 99.9,176.4 100.8,165.6 101.7,169.3 102.6,168.9 103.5,171.5 104.4,169.4 105.3,173.1 106.2,178.9 107.1,180.6 108.0,186.7 108.9,185.1 109.8,189.9 110.7,198.1 111.6,194.5 112.5,197.5 113.4,202.2 114.3,205.2 115.2,209.7 116.1,211.4 117.0,212.7 117.9,216.8 118.8,222.9 119.7,223.1 120.6,219.2 121.5,224.9 122.4,225.6 123.3,229.2 124.2,229.5 125.1,233.5 126.0,233.3 126.9,234.1 127.8,234.0 128.7,234.4 129.6,235.5 130.5,237.2 131.4,236.7 132.3,235.9 133.2,238.2 134.1,237.1 135.0,236.9 135.9,236.2 136.8,236.5 137.7,236.5 138.6,233.8 139.5,238.4 140.4,237.8 141.3,236.7 142.2,238.0 143.1,237.1 144.0,236.7 144.9,232.8 145.8,235.2 146.7,235.7 147.6,236.6 148.5,236.3 149.4,235.1 150.3,230.9 151.2,228.7 152.1,231.4 153.0,229.6 153.9,229.6 154.8,226.8 155.7,225.9 156.6,221.9 157.5,223.0 158.4,219.9 159.3,219.3 160.2,217.5 161.1,214.5 162.0,213.1 162.9,210.4 163.8,209.5 164.7,206.9 165.6,202.9 166.5,200.6 167.4,202.6 168.3,197.3 169.2,197.2 170.1,194.1 171.0,190.5 171.9,188.5 172.8,188.9 173.7,188.4 174.6,188.9 175.5,185.8 176.4,188.1 177.3,190.5 178.2,195.2 179.1,189.7 180.0,196.7 180.9,196.8 181.8,200.5 182.7,200.9 183.6,204.4 184.5,208.5 185.4,208.5 186.3,210.7 187.2,212.6 188.1,212.8 189.0,216.7 189.9,217.3 190.8,218.1 191.7,220.9 192.6,222.2 193.5,225.0 194.4,225.1 195.3,225.6 196.2,229.5 197.1,229.8 198.0,231.0 198.9,230.9 199.8,230.7 200.7,230.9 201.6,231.6 202.5,233.7 203.4,233.0 204.3,231.4 205.2,233.6 206.1,232.1 207.0,234.4 207.9,232.8 208.8,233.0 209.7,234.9 210.6,234.8 211.5,232.9 212.4,236.1 213.3,237.9 214.2,233.4 215.1,237.7 216.0,234.6 216.9,234.9 217.8,235.4 218.7,233.8 219.6,237.3 220.5,236.4 221.4,234.9 222.3,235.5 223.2,234.0 224.1,235.5 225.0,237.1 225.9,233.8 226.8,235.5 227.7,236.2 228.6,237.4 229.5,237.8 230.4,235.6 231.3,235.2 232.2,236.7 233.1,235.7 234.0,235.8 234.9,237.6 235.8,238.3 236.7,236.6 237.6,236.1 238.5,237.0 239.4,234.0 240.3,236.3 241.2,235.1 242.1,239.3" fill="none" stroke="#0a0a0a" stroke-width="1.4" stroke-linejoin="round"/>
<line x1="34.5" y1="14.3" x2="243.0" y2="14.3" stroke="#2a2a2a" stroke-width="1.0"/>
<line x1="34.5" y1="271.5" x2="243.0" y2="271.5" stroke="#2a2a2a" stroke-width="1.0"/>
<line x1="34.5" y1="14.3" x2="34.5" y2="271.5" stroke="#2a2a2a" stroke-width="1.0"/>
<line x1="243.0" y1="14.3" x2="243.0" y2="271.5" stroke="#2a2a2a" stroke-width="1.0"/>
<line x1="34.5" y1="142.8" x2="243.0" y2="142.8" stroke="#666" stroke-width="1.2"/>
<path d="M58.8,14.3v3M120.1,14.3v3M181.5,14.3v3M89.5,14.3v2M150.8,14.3v2M212.2,14.3v2" stroke="#2a2a2a" stroke-width="1" fill="none"/>
<path d="M58.8,142.8v-3M120.1,142.8v-3M181.5,142.8v-3M89.5,142.8v-2M150.8,142.8v-2M212.2,142.8v-2" stroke="#2a2a2a" stroke-width="1" fill="none"/>
<path d="M58.8,271.5v-3M120.1,271.5v-3M181.5,271.5v-3M89.5,271.5v-2M150.8,271.5v-2M212.2,271.5v-2" stroke="#2a2a2a" stroke-width="1" fill="none"/>
<path d="M34.5,110.1h3M243.0,110.1h-3M34.5,77.2h3M243.0,77.2h-3M34.5,44.3h3M243.0,44.3h-3M34.5,126.6h2M243.0,126.6h-2M34.5,93.7h2M243.0,93.7h-2M34.5,60.8h2M243.0,60.8h-2M34.5,27.9h2M243.0,27.9h-2" stroke="#2a2a2a" stroke-width="1" fill="none"/>
<path d="M34.5,240.0h3M243.0,240.0h-3M34.5,208.5h3M243.0,208.5h-3M34.5,177.0h3M243.0,177.0h-3M34.5,145.5h3M243.0,145.5h-3M34.5,255.8h2M243.0,255.8h-2M34.5,224.2h2M243.0,224.2h-2M34.5,192.8h2M243.0,192.8h-2M34.5,161.2h2M243.0,161.2h-2" stroke="#2a2a2a" stroke-width="1" fill="none"/>
<text transform="translate(58.8,8.7) scale(1.000,1)" font-family="Liberation Sans" font-size="8.50" font-weight="normal" text-anchor="middle" fill="#1a1a1a" stroke="#1a1a1a" stroke-width="0.3">365</text>
<text transform="translate(58.8,281.0) scale(1.000,1)" font-family="Liberation Sans" font-size="8.50" font-weight="normal" text-anchor="middle" fill="#1a1a1a" stroke="#1a1a1a" stroke-width="0.3">365</text>
<text transform="translate(120.1,8.7) scale(1.000,1)" font-family="Liberation Sans" font-size="8.50" font-weight="normal" text-anchor="middle" fill="#1a1a1a" stroke="#1a1a1a" stroke-width="0.3">370</text>
<text transform="translate(120.1,281.0) scale(1.000,1)" font-family="Liberation Sans" font-size="8.50" font-weight="normal" text-anchor="middle" fill="#1a1a1a" stroke="#1a1a1a" stroke-width="0.3">370</text>
<text transform="translate(181.5,8.7) scale(1.000,1)" font-family="Liberation Sans" font-size="8.50" font-weight="normal" text-anchor="middle" fill="#1a1a1a" stroke="#1a1a1a" stroke-width="0.3">375</text>
<text transform="translate(181.5,281.0) scale(1.000,1)" font-family="Liberation Sans" font-size="8.50" font-weight="normal" text-anchor="middle" fill="#1a1a1a" stroke="#1a1a1a" stroke-width="0.3">375</text>
<text transform="translate(242.8,8.7) scale(1.000,1)" font-family="Liberation Sans" font-size="8.50" font-weight="normal" text-anchor="middle" fill="#1a1a1a" stroke="#1a1a1a" stroke-width="0.3">380</text>
<text transform="translate(242.8,281.0) scale(1.000,1)" font-family="Liberation Sans" font-size="8.50" font-weight="normal" text-anchor="middle" fill="#1a1a1a" stroke="#1a1a1a" stroke-width="0.3">380</text>
<text transform="translate(30.0,145.6) scale(1.000,1)" font-family="Liberation Sans" font-size="8.50" font-weight="normal" text-anchor="end" fill="#1a1a1a" stroke="#1a1a1a" stroke-width="0.3">0</text>
<text transform="translate(30.0,112.7) scale(1.000,1)" font-family="Liberation Sans" font-size="8.50" font-weight="normal" text-anchor="end" fill="#1a1a1a" stroke="#1a1a1a" stroke-width="0.3">170</text>
<text transform="translate(30.0,79.8) scale(1.000,1)" font-family="Liberation Sans" font-size="8.50" font-weight="normal" text-anchor="end" fill="#1a1a1a" stroke="#1a1a1a" stroke-width="0.3">340</text>
<text transform="translate(30.0,46.9) scale(1.000,1)" font-family="Liberation Sans" font-size="8.50" font-weight="normal" text-anchor="end" fill="#1a1a1a" stroke="#1a1a1a" stroke-width="0.3">510</text>
<text transform="translate(30.0,274.1) scale(1.000,1)" font-family="Liberation Sans" font-size="8.50" font-weight="normal" text-anchor="end" fill="#1a1a1a" stroke="#1a1a1a" stroke-width="0.3">0</text>
<text transform="translate(30.0,242.6) scale(1.000,1)" font-family="Liberation Sans" font-size="8.50" font-weight="normal" text-anchor="end" fill="#1a1a1a" stroke="#1a1a1a" stroke-width="0.3">180</text>
<text transform="translate(30.0,211.1) scale(1.000,1)" font-family="Liberation Sans" font-size="8.50" font-weight="normal" text-anchor="end" fill="#1a1a1a" stroke="#1a1a1a" stroke-width="0.3">360</text>
<text transform="translate(30.0,179.6) scale(1.000,1)" font-family="Liberation Sans" font-size="8.50" font-weight="normal" text-anchor="end" fill="#1a1a1a" stroke="#1a1a1a" stroke-width="0.3">540</text>
<text transform="translate(30.0,148.1) scale(1.000,1)" font-family="Liberation Sans" font-size="8.50" font-weight="normal" text-anchor="end" fill="#1a1a1a" stroke="#1a1a1a" stroke-width="0.3">720</text>
<text transform="translate(11.3,82) scale(1.25,1) rotate(-90)" font-family="Liberation Sans" font-size="8.75" text-anchor="middle" fill="#1a1a1a" stroke="#1a1a1a" stroke-width="0.25">Intensity (a.u.)</text>
<text transform="translate(11.3,208.9) scale(1.25,1) rotate(-90)" font-family="Liberation Sans" font-size="8.75" text-anchor="middle" fill="#1a1a1a" stroke="#1a1a1a" stroke-width="0.25">Intensity (a.u.)</text>
<text transform="translate(134.3,289.7) scale(1.185,1)" font-family="Liberation Sans" font-size="8.90" font-weight="normal" text-anchor="middle" fill="#1a1a1a" stroke="#1a1a1a" stroke-width="0.3">Binding energy (eV)</text>
<text x="126.5" y="307.4" font-family="Liberation Serif" font-size="12.6" font-weight="bold" text-anchor="middle" fill="#1a1a1a" stroke="#1a1a1a" stroke-width="0.3">(c)</text>
<text transform="translate(42.0,30.9) scale(1.079,1)" font-family="Liberation Sans" font-size="8.76" font-weight="normal" text-anchor="start" fill="#1a1a1a" stroke="#1a1a1a" stroke-width="0.3">Ag(0) 3d</text>
<text transform="translate(79.2,33.2) scale(1.050,1)" font-family="Liberation Sans" font-size="5.00" font-weight="normal" text-anchor="start" fill="#1a1a1a" stroke="#1a1a1a" stroke-width="0.2">5/2</text>
<line x1="68.1" y1="32.9" x2="88.6" y2="43.6" stroke="#111" stroke-width="0.9"/>
<polygon points="88.6,43.6 85.8,40.0 84.0,43.3" fill="#111"/>
<text transform="translate(41.2,73.3) scale(1.079,1)" font-family="Liberation Sans" font-size="8.76" font-weight="normal" text-anchor="start" fill="#1a1a1a" stroke="#1a1a1a" stroke-width="0.3">Ag 3d</text>
<text transform="translate(66.4,75.6) scale(1.050,1)" font-family="Liberation Sans" font-size="5.00" font-weight="normal" text-anchor="start" fill="#1a1a1a" stroke="#1a1a1a" stroke-width="0.2">5/2</text>
<line x1="55.7" y1="77.8" x2="78.6" y2="91.3" stroke="#111" stroke-width="0.9"/>
<polygon points="78.6,91.3 75.9,87.5 74.0,90.8" fill="#111"/>
<text transform="translate(132.6,28.5) scale(1.079,1)" font-family="Liberation Sans" font-size="9.53" font-weight="bold" text-anchor="start" fill="#1a1a1a" stroke="#1a1a1a" stroke-width="0.22">TC 41</text>
<text transform="translate(206.8,34.2) scale(1.079,1)" font-family="Liberation Sans" font-size="9.65" font-weight="bold" text-anchor="start" fill="#1a1a1a" stroke="#1a1a1a" stroke-width="0.22">Ag 3d</text>
<text transform="translate(192.0,50.4) scale(1.079,1)" font-family="Liberation Sans" font-size="8.76" font-weight="normal" text-anchor="start" fill="#1a1a1a" stroke="#1a1a1a" stroke-width="0.3">Ag(0) 3d</text>
<text transform="translate(228.7,52.7) scale(1.050,1)" font-family="Liberation Sans" font-size="5.00" font-weight="normal" text-anchor="start" fill="#1a1a1a" stroke="#1a1a1a" stroke-width="0.2">3/2</text>
<line x1="198.8" y1="54.0" x2="185.1" y2="60.3" stroke="#111" stroke-width="0.9"/>
<polygon points="185.1,60.3 189.7,60.3 188.1,56.8" fill="#111"/>
<text transform="translate(196.0,78.9) scale(1.079,1)" font-family="Liberation Sans" font-size="8.76" font-weight="normal" text-anchor="start" fill="#1a1a1a" stroke="#1a1a1a" stroke-width="0.3">Ag 3d</text>
<text transform="translate(221.2,81.2) scale(1.050,1)" font-family="Liberation Sans" font-size="5.00" font-weight="normal" text-anchor="start" fill="#1a1a1a" stroke="#1a1a1a" stroke-width="0.2">3/2</text>
<line x1="190.9" y1="80.5" x2="170.8" y2="89.5" stroke="#111" stroke-width="0.9"/>
<polygon points="170.8,89.5 175.4,89.5 173.9,86.0" fill="#111"/>
<text transform="translate(42.6,158.4) scale(1.079,1)" font-family="Liberation Sans" font-size="9.78" font-weight="bold" text-anchor="start" fill="#1a1a1a" stroke="#1a1a1a" stroke-width="0.22">TC 41 after 2 photocatalytic runs</text>
<text transform="translate(212.2,167.4) scale(1.079,1)" font-family="Liberation Sans" font-size="9.65" font-weight="bold" text-anchor="start" fill="#1a1a1a" stroke="#1a1a1a" stroke-width="0.22">Ag 3d</text>
<text transform="translate(46.8,173.5) scale(1.079,1)" font-family="Liberation Sans" font-size="8.76" font-weight="normal" text-anchor="start" fill="#1a1a1a" stroke="#1a1a1a" stroke-width="0.3">Ag(0) 3d</text>
<text transform="translate(83.5,175.8) scale(1.050,1)" font-family="Liberation Sans" font-size="5.00" font-weight="normal" text-anchor="start" fill="#1a1a1a" stroke="#1a1a1a" stroke-width="0.2">5/2</text>
<text transform="translate(165.8,179.7) scale(1.079,1)" font-family="Liberation Sans" font-size="8.76" font-weight="normal" text-anchor="start" fill="#1a1a1a" stroke="#1a1a1a" stroke-width="0.3">Ag(0) 3d</text>
<text transform="translate(202.5,182.0) scale(1.050,1)" font-family="Liberation Sans" font-size="5.00" font-weight="normal" text-anchor="start" fill="#1a1a1a" stroke="#1a1a1a" stroke-width="0.2">3/2</text>
<polyline points="333.4,123.2 333.9,123.2 334.4,123.2 334.9,123.2 335.4,123.2 335.9,123.2 336.4,123.2 336.9,123.2 337.4,123.2 337.9,123.2 338.4,123.2 338.9,123.2 339.4,123.2 339.9,123.2 340.4,123.2 340.9,123.2 341.4,123.2 341.9,123.2 342.4,123.2 342.9,123.2 343.4,123.2 343.9,123.2 344.4,123.2 344.9,123.2 345.4,123.2 345.9,123.2 346.4,123.2 346.9,123.2 347.4,123.2 347.9,123.2 348.4,123.2 348.9,123.2 349.4,123.1 349.9,123.1 350.4,123.1 350.9,123.1 351.4,123.1 351.9,123.1 352.4,123.1 352.9,123.1 353.4,123.1 353.9,123.1 354.4,123.1 354.9,123.1 355.4,123.1 355.9,123.1 356.4,123.1 356.9,123.1 357.4,123.1 357.9,123.1 358.4,123.1 358.9,123.1 359.4,123.1 359.9,123.1 360.4,123.1 360.9,123.1 361.4,123.1 361.9,123.1 362.4,123.1 362.9,123.1 363.4,123.0 363.9,123.0 364.4,123.0 364.9,123.0 365.4,123.0 365.9,123.0 366.4,123.0 366.9,123.0 367.4,123.0 367.9,123.0 368.4,123.0 368.9,123.0 369.4,123.0 369.9,123.0 370.4,122.9 370.9,122.9 371.4,122.9 371.9,122.9 372.4,122.9 372.9,122.9 373.4,122.9 373.9,122.9 374.4,122.9 374.9,122.9 375.4,122.8 375.9,122.8 376.4,122.8 376.9,122.8 377.4,122.8 377.9,122.8 378.4,122.8 378.9,122.7 379.4,122.7 379.9,122.7 380.4,122.7 380.9,122.7 381.4,122.7 381.9,122.6 382.4,122.6 382.9,122.6 383.4,122.6 383.9,122.6 384.4,122.5 384.9,122.5 385.4,122.5 385.9,122.5 386.4,122.4 386.9,122.4 387.4,122.4 387.9,122.4 388.4,122.3 388.9,122.3 389.4,122.3 389.9,122.2 390.4,122.2 390.9,122.2 391.4,122.2 391.9,122.1 392.4,122.1 392.9,122.1 393.4,122.0 393.9,122.0 394.4,122.0 394.9,121.9 395.4,121.9 395.9,121.8 396.4,121.8 396.9,121.8 397.4,121.7 397.9,121.7 398.4,121.6 398.9,121.6 399.4,121.6 399.9,121.5 400.4,121.5 400.9,121.4 401.4,121.4 401.9,121.3 402.4,121.3 402.9,121.2 403.4,121.2 403.9,121.1 404.4,121.1 404.9,121.0 405.4,121.0 405.9,120.9 406.4,120.9 406.9,120.8 407.4,120.8 407.9,120.7 408.4,120.7 408.9,120.6 409.4,120.6 409.9,120.5 410.4,120.4 410.9,120.4 411.4,120.3 411.9,120.3 412.4,120.2 412.9,120.1 413.4,120.1 413.9,120.0 414.4,120.0 414.9,119.9 415.4,119.8 415.9,119.8 416.4,119.7 416.9,119.6 417.4,119.6 417.9,119.5 418.4,119.4 418.9,119.4 419.4,119.3 419.9,119.2 420.4,119.2 420.9,119.1 421.4,119.0 421.9,119.0 422.4,118.9 422.9,118.8 423.4,118.7 423.9,118.7 424.4,118.6 424.9,118.5 425.4,118.5 425.9,118.4 426.4,118.3 426.9,118.2 427.4,118.2 427.9,118.1 428.4,118.0 428.9,117.9 429.4,117.9 429.9,117.8 430.4,117.7 430.9,117.6 431.4,117.6 431.9,117.5 432.4,117.4 432.9,117.3 433.4,117.2 433.9,117.2 434.4,117.1 434.9,117.0 435.4,116.9 435.9,116.9 436.4,116.8 436.9,116.7 437.4,116.6 437.9,116.5 438.4,116.5 438.9,116.4 439.4,116.3 439.9,116.2 440.4,116.1 440.9,116.1 441.4,116.0 441.9,115.9 442.4,115.8 442.9,115.7 443.4,115.6 443.9,115.6 444.4,115.5 444.9,115.4 445.4,115.3 445.9,115.2 446.4,115.1 446.9,115.1 447.4,115.0 447.9,114.9 448.4,114.8 448.9,114.7 449.4,114.7 449.9,114.6 450.4,114.5 450.9,114.4 451.4,114.3 451.9,114.2 452.4,114.2 452.9,114.1 453.4,114.0 453.9,113.9 454.4,113.8 454.9,113.7 455.4,113.7 455.9,113.6 456.4,113.5 456.9,113.4 457.4,113.3 457.9,113.3 458.4,113.2 458.9,113.1 459.4,113.0 459.9,112.9 460.4,112.9 460.9,112.8 461.4,112.7 461.9,112.6 462.4,112.6 462.9,112.5 463.4,112.4 463.9,112.3 464.4,112.3 464.9,112.2 465.4,112.1 465.9,112.0 466.4,112.0 466.9,111.9 467.4,111.8 467.9,111.8 468.4,111.7 468.9,111.6 469.4,111.5 469.9,111.5 470.4,111.4 470.9,111.3 471.4,111.3 471.9,111.2 472.4,111.2 472.9,111.1 473.4,111.0 473.9,111.0 474.4,110.9 474.9,110.9 475.4,110.8 475.9,110.7 476.4,110.7 476.9,110.6 477.4,110.6 477.9,110.5 478.4,110.5 478.9,110.4 479.4,110.4 479.9,110.3 480.4,110.3 480.9,110.2 481.4,110.2 481.9,110.1 482.4,110.1 482.9,110.0 483.4,110.0 483.9,110.0 484.4,109.9 484.9,109.9 485.4,109.8 485.9,109.8 486.4,109.7 486.9,109.7 487.4,109.7 487.9,109.6 488.4,109.6 488.9,109.6 489.4,109.5 489.9,109.5 490.4,109.5 490.9,109.4 491.4,109.4 491.9,109.4 492.4,109.3 492.9,109.3 493.4,109.3 493.9,109.3 494.4,109.2 494.9,109.2 495.4,109.2 495.9,109.2 496.4,109.1 496.9,109.1 497.4,109.1 497.9,109.1 498.4,109.0 498.9,109.0 499.4,109.0 499.9,109.0 500.4,109.0 500.9,108.9 501.4,108.9 501.9,108.9 502.4,108.9 502.9,108.9 503.4,108.9 503.9,108.8 504.4,108.8 504.9,108.8 505.4,108.8 505.9,108.8 506.4,108.8 506.9,108.8 507.4,108.8 507.9,108.7 508.4,108.7 508.9,108.7 509.4,108.7 509.9,108.7 510.4,108.7 510.9,108.7 511.4,108.7 511.9,108.7 512.4,108.6 512.9,108.6 513.4,108.6 513.9,108.6 514.4,108.6 514.9,108.6 515.4,108.6 515.9,108.6 516.4,108.6 516.9,108.6 517.4,108.6 517.9,108.6 518.4,108.6 518.9,108.5 519.4,108.5 519.9,108.5 520.4,108.5 520.9,108.5 521.4,108.5 521.9,108.5 522.4,108.5 522.9,108.5 523.4,108.5 523.9,108.5 524.4,108.5 524.9,108.5 525.4,108.5 525.9,108.5 526.4,108.5 526.9,108.5 527.4,108.5 527.9,108.5 528.4,108.5 528.9,108.5 529.4,108.5 529.9,108.4 530.4,108.4 530.9,108.4 531.4,108.4 531.9,108.4 532.4,108.4 532.9,108.4 533.4,108.4 533.9,108.4 534.4,108.4 534.9,108.4 535.4,108.4 535.9,108.4 536.4,108.4 536.9,108.4 537.4,108.4 537.9,108.4 538.4,108.4 538.9,108.4 539.4,108.4" fill="none" stroke="#ff2a2a" stroke-width="1.1" stroke-linejoin="round"/>
<polyline points="333.4,122.9 333.9,122.9 334.4,122.9 334.9,122.9 335.4,122.9 335.9,122.9 336.4,122.9 336.9,122.9 337.4,122.9 337.9,122.8 338.4,122.8 338.9,122.8 339.4,122.8 339.9,122.8 340.4,122.8 340.9,122.7 341.4,122.7 341.9,122.7 342.4,122.7 342.9,122.7 343.4,122.6 343.9,122.6 344.4,122.6 344.9,122.6 345.4,122.5 345.9,122.5 346.4,122.5 346.9,122.4 347.4,122.4 347.9,122.4 348.4,122.3 348.9,122.3 349.4,122.2 349.9,122.2 350.4,122.1 350.9,122.1 351.4,122.0 351.9,122.0 352.4,121.9 352.9,121.8 353.4,121.8 353.9,121.7 354.4,121.6 354.9,121.6 355.4,121.5 355.9,121.4 356.4,121.3 356.9,121.2 357.4,121.1 357.9,121.0 358.4,120.9 358.9,120.8 359.4,120.7 359.9,120.6 360.4,120.5 360.9,120.4 361.4,120.2 361.9,120.1 362.4,120.0 362.9,119.8 363.4,119.7 363.9,119.5 364.4,119.3 364.9,119.2 365.4,119.0 365.9,118.8 366.4,118.6 366.9,118.4 367.4,118.2 367.9,118.0 368.4,117.8 368.9,117.6 369.4,117.4 369.9,117.1 370.4,116.9 370.9,116.6 371.4,116.4 371.9,116.1 372.4,115.8 372.9,115.6 373.4,115.3 373.9,115.0 374.4,114.7 374.9,114.4 375.4,114.0 375.9,113.7 376.4,113.4 376.9,113.0 377.4,112.7 377.9,112.3 378.4,112.0 378.9,111.6 379.4,111.2 379.9,110.8 380.4,110.4 380.9,110.0 381.4,109.6 381.9,109.2 382.4,108.8 382.9,108.3 383.4,107.9 383.9,107.5 384.4,107.0 384.9,106.6 385.4,106.1 385.9,105.6 386.4,105.2 386.9,104.7 387.4,104.2 387.9,103.7 388.4,103.2 388.9,102.7 389.4,102.3 389.9,101.8 390.4,101.3 390.9,100.8 391.4,100.3 391.9,99.7 392.4,99.2 392.9,98.7 393.4,98.2 393.9,97.7 394.4,97.2 394.9,96.7 395.4,96.2 395.9,95.7 396.4,95.2 396.9,94.7 397.4,94.3 397.9,93.8 398.4,93.3 398.9,92.8 399.4,92.4 399.9,91.9 400.4,91.4 400.9,91.0 401.4,90.6 401.9,90.1 402.4,89.7 402.9,89.3 403.4,88.9 403.9,88.5 404.4,88.1 404.9,87.8 405.4,87.4 405.9,87.1 406.4,86.7 406.9,86.4 407.4,86.1 407.9,85.8 408.4,85.6 408.9,85.3 409.4,85.0 409.9,84.8 410.4,84.6 410.9,84.4 411.4,84.2 411.9,84.1 412.4,83.9 412.9,83.8 413.4,83.6 413.9,83.5 414.4,83.5 414.9,83.4 415.4,83.3 415.9,83.3 416.4,83.3 416.9,83.3 417.4,83.3 417.9,83.3 418.4,83.4 418.9,83.4 419.4,83.5 419.9,83.6 420.4,83.7 420.9,83.9 421.4,84.0 421.9,84.2 422.4,84.3 422.9,84.5 423.4,84.7 423.9,84.9 424.4,85.1 424.9,85.4 425.4,85.6 425.9,85.9 426.4,86.2 426.9,86.4 427.4,86.7 427.9,87.0 428.4,87.3 428.9,87.7 429.4,88.0 429.9,88.3 430.4,88.7 430.9,89.0 431.4,89.4 431.9,89.7 432.4,90.1 432.9,90.5 433.4,90.9 433.9,91.2 434.4,91.6 434.9,92.0 435.4,92.4 435.9,92.8 436.4,93.2 436.9,93.6 437.4,94.0 437.9,94.4 438.4,94.7 438.9,95.1 439.4,95.5 439.9,95.9 440.4,96.3 440.9,96.7 441.4,97.1 441.9,97.4 442.4,97.8 442.9,98.2 443.4,98.6 443.9,98.9 444.4,99.3 444.9,99.6 445.4,100.0 445.9,100.3 446.4,100.7 446.9,101.0 447.4,101.3 447.9,101.6 448.4,101.9 448.9,102.2 449.4,102.5 449.9,102.8 450.4,103.1 450.9,103.4 451.4,103.7 451.9,103.9 452.4,104.2 452.9,104.5 453.4,104.7 453.9,104.9 454.4,105.2 454.9,105.4 455.4,105.6 455.9,105.8 456.4,106.0 456.9,106.2 457.4,106.4 457.9,106.6 458.4,106.7 458.9,106.9 459.4,107.1 459.9,107.2 460.4,107.4 460.9,107.5 461.4,107.6 461.9,107.8 462.4,107.9 462.9,108.0 463.4,108.1 463.9,108.2 464.4,108.3 464.9,108.4 465.4,108.5 465.9,108.6 466.4,108.6 466.9,108.7 467.4,108.8 467.9,108.8 468.4,108.9 468.9,109.0 469.4,109.0 469.9,109.1 470.4,109.1 470.9,109.1 471.4,109.2 471.9,109.2 472.4,109.2 472.9,109.3 473.4,109.3 473.9,109.3 474.4,109.3 474.9,109.3 475.4,109.3 475.9,109.4 476.4,109.4 476.9,109.4 477.4,109.4 477.9,109.4 478.4,109.4 478.9,109.4 479.4,109.4 479.9,109.4 480.4,109.4 480.9,109.4 481.4,109.3 481.9,109.3 482.4,109.3 482.9,109.3 483.4,109.3 483.9,109.3 484.4,109.3 484.9,109.3 485.4,109.3 485.9,109.2 486.4,109.2 486.9,109.2 487.4,109.2 487.9,109.2 488.4,109.2 488.9,109.1 489.4,109.1 489.9,109.1 490.4,109.1 490.9,109.1 491.4,109.1 491.9,109.0 492.4,109.0 492.9,109.0 493.4,109.0 493.9,109.0 494.4,108.9 494.9,108.9 495.4,108.9 495.9,108.9 496.4,108.9 496.9,108.9 497.4,108.9 497.9,108.8 498.4,108.8 498.9,108.8 499.4,108.8 499.9,108.8 500.4,108.8 500.9,108.7 501.4,108.7 501.9,108.7 502.4,108.7 502.9,108.7 503.4,108.7 503.9,108.7 504.4,108.7 504.9,108.6 505.4,108.6 505.9,108.6 506.4,108.6 506.9,108.6 507.4,108.6 507.9,108.6 508.4,108.6 508.9,108.6 509.4,108.6 509.9,108.5 510.4,108.5 510.9,108.5 511.4,108.5 511.9,108.5 512.4,108.5 512.9,108.5 513.4,108.5 513.9,108.5 514.4,108.5 514.9,108.5 515.4,108.5 515.9,108.5 516.4,108.5 516.9,108.4 517.4,108.4 517.9,108.4 518.4,108.4 518.9,108.4 519.4,108.4 519.9,108.4 520.4,108.4 520.9,108.4 521.4,108.4 521.9,108.4 522.4,108.4 522.9,108.4 523.4,108.4 523.9,108.4 524.4,108.4 524.9,108.4 525.4,108.4 525.9,108.4 526.4,108.4 526.9,108.4 527.4,108.4 527.9,108.4 528.4,108.4 528.9,108.4 529.4,108.4 529.9,108.4 530.4,108.3 530.9,108.3 531.4,108.3 531.9,108.3 532.4,108.3 532.9,108.3 533.4,108.3 533.9,108.3 534.4,108.3 534.9,108.3 535.4,108.3 535.9,108.3 536.4,108.3 536.9,108.3 537.4,108.3 537.9,108.3 538.4,108.3 538.9,108.3 539.4,108.3" fill="none" stroke="#ff44bb" stroke-width="1.2" stroke-linejoin="round"/>
<polyline points="333.4,122.5 333.9,122.5 334.4,122.5 334.9,122.5 335.4,122.5 335.9,122.5 336.4,122.5 336.9,122.5 337.4,122.5 337.9,122.5 338.4,122.5 338.9,122.5 339.4,122.5 339.9,122.5 340.4,122.4 340.9,122.4 341.4,122.4 341.9,122.4 342.4,122.4 342.9,122.4 343.4,122.4 343.9,122.4 344.4,122.4 344.9,122.4 345.4,122.4 345.9,122.4 346.4,122.3 346.9,122.3 347.4,122.3 347.9,122.3 348.4,122.3 348.9,122.3 349.4,122.3 349.9,122.3 350.4,122.3 350.9,122.3 351.4,122.3 351.9,122.2 352.4,122.2 352.9,122.2 353.4,122.2 353.9,122.2 354.4,122.2 354.9,122.2 355.4,122.2 355.9,122.1 356.4,122.1 356.9,122.1 357.4,122.1 357.9,122.1 358.4,122.1 358.9,122.1 359.4,122.0 359.9,122.0 360.4,122.0 360.9,122.0 361.4,122.0 361.9,122.0 362.4,121.9 362.9,121.9 363.4,121.9 363.9,121.9 364.4,121.9 364.9,121.8 365.4,121.8 365.9,121.8 366.4,121.8 366.9,121.7 367.4,121.7 367.9,121.7 368.4,121.7 368.9,121.6 369.4,121.6 369.9,121.6 370.4,121.5 370.9,121.5 371.4,121.5 371.9,121.5 372.4,121.4 372.9,121.4 373.4,121.3 373.9,121.3 374.4,121.3 374.9,121.2 375.4,121.2 375.9,121.1 376.4,121.1 376.9,121.0 377.4,121.0 377.9,120.9 378.4,120.9 378.9,120.8 379.4,120.8 379.9,120.7 380.4,120.6 380.9,120.6 381.4,120.5 381.9,120.4 382.4,120.4 382.9,120.3 383.4,120.2 383.9,120.1 384.4,120.0 384.9,120.0 385.4,119.9 385.9,119.8 386.4,119.7 386.9,119.6 387.4,119.5 387.9,119.4 388.4,119.2 388.9,119.1 389.4,119.0 389.9,118.9 390.4,118.8 390.9,118.6 391.4,118.5 391.9,118.3 392.4,118.2 392.9,118.0 393.4,117.9 393.9,117.7 394.4,117.6 394.9,117.4 395.4,117.2 395.9,117.0 396.4,116.8 396.9,116.6 397.4,116.4 397.9,116.2 398.4,116.0 398.9,115.8 399.4,115.5 399.9,115.3 400.4,115.1 400.9,114.8 401.4,114.5 401.9,114.3 402.4,114.0 402.9,113.7 403.4,113.4 403.9,113.1 404.4,112.8 404.9,112.5 405.4,112.2 405.9,111.8 406.4,111.5 406.9,111.1 407.4,110.8 407.9,110.4 408.4,110.0 408.9,109.6 409.4,109.3 409.9,108.8 410.4,108.4 410.9,108.0 411.4,107.6 411.9,107.1 412.4,106.7 412.9,106.2 413.4,105.7 413.9,105.2 414.4,104.7 414.9,104.2 415.4,103.7 415.9,103.2 416.4,102.7 416.9,102.1 417.4,101.6 417.9,101.0 418.4,100.4 418.9,99.8 419.4,99.3 419.9,98.7 420.4,98.0 420.9,97.4 421.4,96.8 421.9,96.2 422.4,95.5 422.9,94.9 423.4,94.2 423.9,93.5 424.4,92.8 424.9,92.2 425.4,91.5 425.9,90.8 426.4,90.1 426.9,89.4 427.4,88.6 427.9,87.9 428.4,87.2 428.9,86.5 429.4,85.7 429.9,85.0 430.4,84.2 430.9,83.5 431.4,82.7 431.9,82.0 432.4,81.2 432.9,80.5 433.4,79.7 433.9,78.9 434.4,78.2 434.9,77.4 435.4,76.7 435.9,75.9 436.4,75.1 436.9,74.4 437.4,73.6 437.9,72.9 438.4,72.2 438.9,71.4 439.4,70.7 439.9,70.0 440.4,69.3 440.9,68.6 441.4,67.9 441.9,67.2 442.4,66.5 442.9,65.8 443.4,65.2 443.9,64.5 444.4,63.9 444.9,63.3 445.4,62.6 445.9,62.1 446.4,61.5 446.9,60.9 447.4,60.4 447.9,59.8 448.4,59.3 448.9,58.8 449.4,58.4 449.9,57.9 450.4,57.5 450.9,57.1 451.4,56.7 451.9,56.3 452.4,56.0 452.9,55.7 453.4,55.4 453.9,55.1 454.4,54.8 454.9,54.6 455.4,54.4 455.9,54.2 456.4,54.1 456.9,53.9 457.4,53.8 457.9,53.8 458.4,53.7 458.9,53.7 459.4,53.7 459.9,53.7 460.4,53.8 460.9,53.8 461.4,53.9 461.9,54.0 462.4,54.2 462.9,54.4 463.4,54.5 463.9,54.8 464.4,55.0 464.9,55.3 465.4,55.5 465.9,55.8 466.4,56.2 466.9,56.5 467.4,56.9 467.9,57.2 468.4,57.6 468.9,58.0 469.4,58.5 469.9,58.9 470.4,59.4 470.9,59.9 471.4,60.3 471.9,60.8 472.4,61.4 472.9,61.9 473.4,62.4 473.9,63.0 474.4,63.5 474.9,64.1 475.4,64.7 475.9,65.3 476.4,65.9 476.9,66.5 477.4,67.1 477.9,67.7 478.4,68.3 478.9,68.9 479.4,69.5 479.9,70.2 480.4,70.8 480.9,71.4 481.4,72.1 481.9,72.7 482.4,73.3 482.9,74.0 483.4,74.6 483.9,75.3 484.4,75.9 484.9,76.5 485.4,77.1 485.9,77.8 486.4,78.4 486.9,79.0 487.4,79.6 487.9,80.2 488.4,80.9 488.9,81.5 489.4,82.1 489.9,82.6 490.4,83.2 490.9,83.8 491.4,84.4 491.9,85.0 492.4,85.5 492.9,86.1 493.4,86.6 493.9,87.1 494.4,87.7 494.9,88.2 495.4,88.7 495.9,89.2 496.4,89.7 496.9,90.2 497.4,90.7 497.9,91.2 498.4,91.6 498.9,92.1 499.4,92.5 499.9,93.0 500.4,93.4 500.9,93.8 501.4,94.2 501.9,94.6 502.4,95.0 502.9,95.4 503.4,95.8 503.9,96.2 504.4,96.5 504.9,96.9 505.4,97.2 505.9,97.6 506.4,97.9 506.9,98.2 507.4,98.5 507.9,98.8 508.4,99.1 508.9,99.4 509.4,99.7 509.9,99.9 510.4,100.2 510.9,100.5 511.4,100.7 511.9,100.9 512.4,101.2 512.9,101.4 513.4,101.6 513.9,101.8 514.4,102.0 514.9,102.2 515.4,102.4 515.9,102.6 516.4,102.8 516.9,103.0 517.4,103.1 517.9,103.3 518.4,103.4 518.9,103.6 519.4,103.7 519.9,103.9 520.4,104.0 520.9,104.2 521.4,104.3 521.9,104.4 522.4,104.5 522.9,104.6 523.4,104.7 523.9,104.8 524.4,105.0 524.9,105.0 525.4,105.1 525.9,105.2 526.4,105.3 526.9,105.4 527.4,105.5 527.9,105.6 528.4,105.6 528.9,105.7 529.4,105.8 529.9,105.8 530.4,105.9 530.9,106.0 531.4,106.0 531.9,106.1 532.4,106.1 532.9,106.2 533.4,106.2 533.9,106.3 534.4,106.3 534.9,106.4 535.4,106.4 535.9,106.5 536.4,106.5 536.9,106.5 537.4,106.6 537.9,106.6 538.4,106.6 538.9,106.7 539.4,106.7" fill="none" stroke="#22ddee" stroke-width="1.3" stroke-linejoin="round"/>
<polyline points="333.4,126.7 334.4,122.8 335.4,120.5 336.4,105.8 337.4,125.6 338.4,131.0 339.4,116.1 340.4,124.6 341.4,124.6 342.4,110.3 343.4,125.4 344.4,127.8 345.4,120.5 346.4,118.4 347.4,123.4 348.4,108.7 349.4,118.6 350.4,124.2 351.4,109.7 352.4,123.3 353.4,114.2 354.4,103.6 355.4,115.5 356.4,109.7 357.4,117.3 358.4,107.7 359.4,121.0 360.4,109.5 361.4,115.8 362.4,109.4 363.4,110.6 364.4,119.5 365.4,112.9 366.4,108.5 367.4,102.7 368.4,117.0 369.4,113.8 370.4,106.6 371.4,109.5 372.4,101.0 373.4,100.4 374.4,101.0 375.4,107.6 376.4,106.5 377.4,99.4 378.4,107.8 379.4,107.4 380.4,102.8 381.4,107.4 382.4,98.3 383.4,98.5 384.4,101.3 385.4,97.2 386.4,101.4 387.4,87.7 388.4,103.3 389.4,88.6 390.4,91.4 391.4,82.8 392.4,93.9 393.4,96.9 394.4,94.5 395.4,91.8 396.4,75.8 397.4,79.4 398.4,80.2 399.4,76.1 400.4,87.6 401.4,80.6 402.4,78.1 403.4,80.1 404.4,70.0 405.4,69.1 406.4,68.1 407.4,75.5 408.4,73.4 409.4,73.8 410.4,75.8 411.4,59.7 412.4,63.6 413.4,67.1 414.4,56.8 415.4,61.0 416.4,69.7 417.4,69.4 418.4,68.4 419.4,61.2 420.4,58.8 421.4,66.1 422.4,56.4 423.4,60.1 424.4,65.5 425.4,54.4 426.4,52.2 427.4,55.4 428.4,58.5 429.4,57.2 430.4,54.7 431.4,56.6 432.4,42.7 433.4,46.8 434.4,52.6 435.4,45.4 436.4,42.4 437.4,42.8 438.4,44.2 439.4,48.4 440.4,42.8 441.4,50.3 442.4,59.1 443.4,47.4 444.4,55.9 445.4,49.6 446.4,40.7 447.4,45.9 448.4,41.3 449.4,52.1 450.4,40.2 451.4,55.5 452.4,51.0 453.4,35.0 454.4,52.5 455.4,57.5 456.4,43.2 457.4,54.5 458.4,37.6 459.4,32.0 460.4,39.4 461.4,53.3 462.4,39.9 463.4,35.3 464.4,54.9 465.4,67.5 466.4,50.5 467.4,60.3 468.4,56.8 469.4,55.2 470.4,62.1 471.4,69.6 472.4,53.0 473.4,65.3 474.4,65.2 475.4,55.5 476.4,75.6 477.4,79.0 478.4,62.3 479.4,80.3 480.4,71.2 481.4,71.2 482.4,82.9 483.4,76.3 484.4,78.2 485.4,86.9 486.4,86.7 487.4,85.5 488.4,72.6 489.4,72.7 490.4,90.6 491.4,79.1 492.4,86.9 493.4,80.4 494.4,87.0 495.4,81.2 496.4,100.3 497.4,84.8 498.4,91.3 499.4,91.8 500.4,101.3 501.4,85.8 502.4,95.2 503.4,94.9 504.4,100.2 505.4,100.5 506.4,95.4 507.4,100.3 508.4,97.1 509.4,102.9 510.4,99.9 511.4,96.9 512.4,101.3 513.4,104.1 514.4,116.3 515.4,99.6 516.4,104.9 517.4,112.4 518.4,90.8 519.4,93.1 520.4,96.8 521.4,103.7 522.4,119.8 523.4,107.3 524.4,112.6 525.4,103.9 526.4,90.1 527.4,91.2 528.4,112.0 529.4,107.0 530.4,97.9 531.4,113.0 532.4,96.6 533.4,113.3 534.4,115.3 535.4,101.7 536.4,99.6 537.4,111.8 538.4,99.8 539.4,112.0" fill="none" stroke="#0a0a0a" stroke-width="1.35" stroke-linejoin="round"/>
<polyline points="333.4,241.8 333.9,241.8 334.4,241.8 334.9,241.8 335.4,241.8 335.9,241.8 336.4,241.8 336.9,241.8 337.4,241.8 337.9,241.8 338.4,241.8 338.9,241.8 339.4,241.8 339.9,241.8 340.4,241.8 340.9,241.8 341.4,241.8 341.9,241.8 342.4,241.8 342.9,241.8 343.4,241.8 343.9,241.8 344.4,241.8 344.9,241.8 345.4,241.8 345.9,241.8 346.4,241.8 346.9,241.8 347.4,241.8 347.9,241.8 348.4,241.8 348.9,241.8 349.4,241.8 349.9,241.8 350.4,241.8 350.9,241.8 351.4,241.8 351.9,241.8 352.4,241.8 352.9,241.8 353.4,241.8 353.9,241.8 354.4,241.8 354.9,241.8 355.4,241.8 355.9,241.8 356.4,241.8 356.9,241.8 357.4,241.8 357.9,241.8 358.4,241.8 358.9,241.8 359.4,241.8 359.9,241.8 360.4,241.8 360.9,241.8 361.4,241.8 361.9,241.8 362.4,241.8 362.9,241.8 363.4,241.8 363.9,241.8 364.4,241.8 364.9,241.8 365.4,241.8 365.9,241.8 366.4,241.8 366.9,241.8 367.4,241.8 367.9,241.8 368.4,241.8 368.9,241.8 369.4,241.8 369.9,241.8 370.4,241.8 370.9,241.8 371.4,241.8 371.9,241.8 372.4,241.8 372.9,241.8 373.4,241.8 373.9,241.8 374.4,241.7 374.9,241.7 375.4,241.7 375.9,241.7 376.4,241.7 376.9,241.7 377.4,241.7 377.9,241.7 378.4,241.7 378.9,241.7 379.4,241.7 379.9,241.7 380.4,241.7 380.9,241.7 381.4,241.7 381.9,241.7 382.4,241.7 382.9,241.7 383.4,241.7 383.9,241.7 384.4,241.7 384.9,241.7 385.4,241.7 385.9,241.7 386.4,241.7 386.9,241.6 387.4,241.6 387.9,241.6 388.4,241.6 388.9,241.6 389.4,241.6 389.9,241.6 390.4,241.6 390.9,241.6 391.4,241.6 391.9,241.6 392.4,241.6 392.9,241.6 393.4,241.5 393.9,241.5 394.4,241.5 394.9,241.5 395.4,241.5 395.9,241.5 396.4,241.5 396.9,241.5 397.4,241.5 397.9,241.5 398.4,241.4 398.9,241.4 399.4,241.4 399.9,241.4 400.4,241.4 400.9,241.4 401.4,241.4 401.9,241.4 402.4,241.3 402.9,241.3 403.4,241.3 403.9,241.3 404.4,241.3 404.9,241.3 405.4,241.2 405.9,241.2 406.4,241.2 406.9,241.2 407.4,241.2 407.9,241.1 408.4,241.1 408.9,241.1 409.4,241.1 409.9,241.1 410.4,241.0 410.9,241.0 411.4,241.0 411.9,241.0 412.4,241.0 412.9,240.9 413.4,240.9 413.9,240.9 414.4,240.9 414.9,240.8 415.4,240.8 415.9,240.8 416.4,240.8 416.9,240.7 417.4,240.7 417.9,240.7 418.4,240.7 418.9,240.6 419.4,240.6 419.9,240.6 420.4,240.5 420.9,240.5 421.4,240.5 421.9,240.4 422.4,240.4 422.9,240.4 423.4,240.4 423.9,240.3 424.4,240.3 424.9,240.3 425.4,240.2 425.9,240.2 426.4,240.2 426.9,240.1 427.4,240.1 427.9,240.1 428.4,240.0 428.9,240.0 429.4,239.9 429.9,239.9 430.4,239.9 430.9,239.8 431.4,239.8 431.9,239.8 432.4,239.7 432.9,239.7 433.4,239.6 433.9,239.6 434.4,239.6 434.9,239.5 435.4,239.5 435.9,239.4 436.4,239.4 436.9,239.4 437.4,239.3 437.9,239.3 438.4,239.2 438.9,239.2 439.4,239.2 439.9,239.1 440.4,239.1 440.9,239.0 441.4,239.0 441.9,239.0 442.4,238.9 442.9,238.9 443.4,238.8 443.9,238.8 444.4,238.8 444.9,238.7 445.4,238.7 445.9,238.6 446.4,238.6 446.9,238.6 447.4,238.5 447.9,238.5 448.4,238.4 448.9,238.4 449.4,238.4 449.9,238.3 450.4,238.3 450.9,238.2 451.4,238.2 451.9,238.2 452.4,238.1 452.9,238.1 453.4,238.0 453.9,238.0 454.4,238.0 454.9,237.9 455.4,237.9 455.9,237.8 456.4,237.8 456.9,237.8 457.4,237.7 457.9,237.7 458.4,237.7 458.9,237.6 459.4,237.6 459.9,237.6 460.4,237.5 460.9,237.5 461.4,237.4 461.9,237.4 462.4,237.4 462.9,237.3 463.4,237.3 463.9,237.3 464.4,237.2 464.9,237.2 465.4,237.2 465.9,237.2 466.4,237.1 466.9,237.1 467.4,237.1 467.9,237.0 468.4,237.0 468.9,237.0 469.4,236.9 469.9,236.9 470.4,236.9 470.9,236.9 471.4,236.8 471.9,236.8 472.4,236.8 472.9,236.8 473.4,236.7 473.9,236.7 474.4,236.7 474.9,236.7 475.4,236.6 475.9,236.6 476.4,236.6 476.9,236.6 477.4,236.6 477.9,236.5 478.4,236.5 478.9,236.5 479.4,236.5 479.9,236.5 480.4,236.4 480.9,236.4 481.4,236.4 481.9,236.4 482.4,236.4 482.9,236.3 483.4,236.3 483.9,236.3 484.4,236.3 484.9,236.3 485.4,236.3 485.9,236.2 486.4,236.2 486.9,236.2 487.4,236.2 487.9,236.2 488.4,236.2 488.9,236.2 489.4,236.2 489.9,236.1 490.4,236.1 490.9,236.1 491.4,236.1 491.9,236.1 492.4,236.1 492.9,236.1 493.4,236.1 493.9,236.1 494.4,236.0 494.9,236.0 495.4,236.0 495.9,236.0 496.4,236.0 496.9,236.0 497.4,236.0 497.9,236.0 498.4,236.0 498.9,236.0 499.4,236.0 499.9,236.0 500.4,236.0 500.9,236.0 501.4,235.9 501.9,235.9 502.4,235.9 502.9,235.9 503.4,235.9 503.9,235.9 504.4,235.9 504.9,235.9 505.4,235.9 505.9,235.9 506.4,235.9 506.9,235.9 507.4,235.9 507.9,235.9 508.4,235.9 508.9,235.9 509.4,235.9 509.9,235.9 510.4,235.9 510.9,235.9 511.4,235.9 511.9,235.9 512.4,235.9 512.9,235.9 513.4,235.8 513.9,235.8 514.4,235.8 514.9,235.8 515.4,235.8 515.9,235.8 516.4,235.8 516.9,235.8 517.4,235.8 517.9,235.8 518.4,235.8 518.9,235.8 519.4,235.8 519.9,235.8 520.4,235.8 520.9,235.8 521.4,235.8 521.9,235.8 522.4,235.8 522.9,235.8 523.4,235.8 523.9,235.8 524.4,235.8 524.9,235.8 525.4,235.8 525.9,235.8 526.4,235.8 526.9,235.8 527.4,235.8 527.9,235.8 528.4,235.8 528.9,235.8 529.4,235.8 529.9,235.8 530.4,235.8 530.9,235.8 531.4,235.8 531.9,235.8 532.4,235.8 532.9,235.8 533.4,235.8 533.9,235.8 534.4,235.8 534.9,235.8 535.4,235.8 535.9,235.8 536.4,235.8 536.9,235.8 537.4,235.8 537.9,235.8 538.4,235.8 538.9,235.8 539.4,235.8" fill="none" stroke="#ff2a2a" stroke-width="1.1" stroke-linejoin="round"/>
<polyline points="333.4,241.8 333.9,241.8 334.4,241.8 334.9,241.7 335.4,241.7 335.9,241.7 336.4,241.7 336.9,241.7 337.4,241.7 337.9,241.7 338.4,241.7 338.9,241.7 339.4,241.7 339.9,241.7 340.4,241.7 340.9,241.7 341.4,241.7 341.9,241.7 342.4,241.7 342.9,241.7 343.4,241.7 343.9,241.6 344.4,241.6 344.9,241.6 345.4,241.6 345.9,241.6 346.4,241.6 346.9,241.6 347.4,241.6 347.9,241.5 348.4,241.5 348.9,241.5 349.4,241.5 349.9,241.5 350.4,241.5 350.9,241.4 351.4,241.4 351.9,241.4 352.4,241.4 352.9,241.4 353.4,241.3 353.9,241.3 354.4,241.3 354.9,241.3 355.4,241.2 355.9,241.2 356.4,241.2 356.9,241.1 357.4,241.1 357.9,241.1 358.4,241.0 358.9,241.0 359.4,240.9 359.9,240.9 360.4,240.9 360.9,240.8 361.4,240.8 361.9,240.7 362.4,240.7 362.9,240.6 363.4,240.5 363.9,240.5 364.4,240.4 364.9,240.4 365.4,240.3 365.9,240.2 366.4,240.1 366.9,240.1 367.4,240.0 367.9,239.9 368.4,239.8 368.9,239.7 369.4,239.6 369.9,239.5 370.4,239.4 370.9,239.3 371.4,239.2 371.9,239.1 372.4,239.0 372.9,238.9 373.4,238.7 373.9,238.6 374.4,238.5 374.9,238.3 375.4,238.2 375.9,238.0 376.4,237.9 376.9,237.7 377.4,237.6 377.9,237.4 378.4,237.2 378.9,237.0 379.4,236.9 379.9,236.7 380.4,236.5 380.9,236.3 381.4,236.1 381.9,235.8 382.4,235.6 382.9,235.4 383.4,235.2 383.9,234.9 384.4,234.7 384.9,234.4 385.4,234.2 385.9,233.9 386.4,233.6 386.9,233.3 387.4,233.0 387.9,232.7 388.4,232.4 388.9,232.1 389.4,231.8 389.9,231.5 390.4,231.1 390.9,230.8 391.4,230.5 391.9,230.1 392.4,229.7 392.9,229.4 393.4,229.0 393.9,228.6 394.4,228.2 394.9,227.8 395.4,227.4 395.9,227.0 396.4,226.5 396.9,226.1 397.4,225.7 397.9,225.2 398.4,224.8 398.9,224.3 399.4,223.8 399.9,223.4 400.4,222.9 400.9,222.4 401.4,221.9 401.9,221.4 402.4,220.9 402.9,220.3 403.4,219.8 403.9,219.3 404.4,218.7 404.9,218.2 405.4,217.6 405.9,217.1 406.4,216.5 406.9,216.0 407.4,215.4 407.9,214.8 408.4,214.2 408.9,213.6 409.4,213.0 409.9,212.5 410.4,211.9 410.9,211.3 411.4,210.7 411.9,210.0 412.4,209.4 412.9,208.8 413.4,208.2 413.9,207.6 414.4,207.0 414.9,206.4 415.4,205.7 415.9,205.1 416.4,204.5 416.9,203.9 417.4,203.3 417.9,202.7 418.4,202.1 418.9,201.4 419.4,200.8 419.9,200.2 420.4,199.6 420.9,199.0 421.4,198.4 421.9,197.8 422.4,197.3 422.9,196.7 423.4,196.1 423.9,195.5 424.4,195.0 424.9,194.4 425.4,193.9 425.9,193.3 426.4,192.8 426.9,192.3 427.4,191.8 427.9,191.3 428.4,190.8 428.9,190.3 429.4,189.8 429.9,189.3 430.4,188.9 430.9,188.4 431.4,188.0 431.9,187.6 432.4,187.2 432.9,186.8 433.4,186.4 433.9,186.0 434.4,185.7 434.9,185.3 435.4,185.0 435.9,184.7 436.4,184.4 436.9,184.1 437.4,183.8 437.9,183.6 438.4,183.4 438.9,183.1 439.4,182.9 439.9,182.7 440.4,182.6 440.9,182.4 441.4,182.3 441.9,182.1 442.4,182.0 442.9,181.9 443.4,181.9 443.9,181.8 444.4,181.8 444.9,181.7 445.4,181.7 445.9,181.7 446.4,181.8 446.9,181.8 447.4,181.9 447.9,181.9 448.4,182.0 448.9,182.1 449.4,182.3 449.9,182.4 450.4,182.6 450.9,182.7 451.4,182.9 451.9,183.1 452.4,183.3 452.9,183.6 453.4,183.8 453.9,184.1 454.4,184.3 454.9,184.6 455.4,184.9 455.9,185.3 456.4,185.6 456.9,185.9 457.4,186.3 457.9,186.7 458.4,187.0 458.9,187.4 459.4,187.8 459.9,188.2 460.4,188.7 460.9,189.1 461.4,189.5 461.9,190.0 462.4,190.5 462.9,190.9 463.4,191.4 463.9,191.9 464.4,192.4 464.9,192.9 465.4,193.4 465.9,193.9 466.4,194.5 466.9,195.0 467.4,195.5 467.9,196.1 468.4,196.6 468.9,197.1 469.4,197.7 469.9,198.2 470.4,198.8 470.9,199.4 471.4,199.9 471.9,200.5 472.4,201.1 472.9,201.6 473.4,202.2 473.9,202.8 474.4,203.3 474.9,203.9 475.4,204.5 475.9,205.0 476.4,205.6 476.9,206.1 477.4,206.7 477.9,207.3 478.4,207.8 478.9,208.4 479.4,208.9 479.9,209.5 480.4,210.0 480.9,210.6 481.4,211.1 481.9,211.6 482.4,212.2 482.9,212.7 483.4,213.2 483.9,213.7 484.4,214.2 484.9,214.7 485.4,215.2 485.9,215.7 486.4,216.2 486.9,216.7 487.4,217.1 487.9,217.6 488.4,218.1 488.9,218.5 489.4,219.0 489.9,219.4 490.4,219.8 490.9,220.3 491.4,220.7 491.9,221.1 492.4,221.5 492.9,221.9 493.4,222.3 493.9,222.7 494.4,223.1 494.9,223.4 495.4,223.8 495.9,224.1 496.4,224.5 496.9,224.8 497.4,225.2 497.9,225.5 498.4,225.8 498.9,226.1 499.4,226.4 499.9,226.7 500.4,227.0 500.9,227.3 501.4,227.6 501.9,227.9 502.4,228.1 502.9,228.4 503.4,228.6 503.9,228.9 504.4,229.1 504.9,229.3 505.4,229.6 505.9,229.8 506.4,230.0 506.9,230.2 507.4,230.4 507.9,230.6 508.4,230.8 508.9,231.0 509.4,231.2 509.9,231.3 510.4,231.5 510.9,231.7 511.4,231.8 511.9,232.0 512.4,232.1 512.9,232.3 513.4,232.4 513.9,232.6 514.4,232.7 514.9,232.8 515.4,232.9 515.9,233.0 516.4,233.2 516.9,233.3 517.4,233.4 517.9,233.5 518.4,233.6 518.9,233.7 519.4,233.8 519.9,233.8 520.4,233.9 520.9,234.0 521.4,234.1 521.9,234.2 522.4,234.2 522.9,234.3 523.4,234.4 523.9,234.4 524.4,234.5 524.9,234.6 525.4,234.6 525.9,234.7 526.4,234.7 526.9,234.8 527.4,234.8 527.9,234.9 528.4,234.9 528.9,235.0 529.4,235.0 529.9,235.0 530.4,235.1 530.9,235.1 531.4,235.1 531.9,235.2 532.4,235.2 532.9,235.2 533.4,235.3 533.9,235.3 534.4,235.3 534.9,235.3 535.4,235.4 535.9,235.4 536.4,235.4 536.9,235.4 537.4,235.5 537.9,235.5 538.4,235.5 538.9,235.5 539.4,235.5" fill="none" stroke="#22ddee" stroke-width="1.3" stroke-linejoin="round"/>
<polyline points="333.4,235.2 334.4,245.7 335.4,241.9 336.4,239.2 337.4,236.8 338.4,242.7 339.4,231.6 340.4,240.0 341.4,239.3 342.4,244.9 343.4,234.8 344.4,250.2 345.4,239.7 346.4,235.4 347.4,248.5 348.4,249.9 349.4,240.2 350.4,236.5 351.4,241.2 352.4,237.5 353.4,239.4 354.4,249.1 355.4,243.0 356.4,241.6 357.4,242.6 358.4,240.4 359.4,245.0 360.4,245.1 361.4,238.5 362.4,240.9 363.4,252.8 364.4,242.3 365.4,239.0 366.4,250.5 367.4,239.7 368.4,233.8 369.4,242.8 370.4,234.4 371.4,236.3 372.4,240.4 373.4,237.8 374.4,234.2 375.4,235.0 376.4,234.5 377.4,243.3 378.4,233.2 379.4,233.6 380.4,246.8 381.4,232.9 382.4,243.1 383.4,241.7 384.4,233.6 385.4,226.5 386.4,235.7 387.4,236.2 388.4,237.2 389.4,231.9 390.4,237.1 391.4,237.4 392.4,224.0 393.4,236.1 394.4,228.8 395.4,224.1 396.4,224.6 397.4,235.1 398.4,229.6 399.4,214.2 400.4,223.0 401.4,220.8 402.4,219.6 403.4,216.8 404.4,210.9 405.4,221.8 406.4,211.3 407.4,213.2 408.4,210.8 409.4,209.0 410.4,215.4 411.4,212.3 412.4,205.6 413.4,203.0 414.4,204.2 415.4,210.5 416.4,204.9 417.4,204.2 418.4,200.0 419.4,199.2 420.4,200.5 421.4,188.5 422.4,205.3 423.4,191.7 424.4,191.7 425.4,200.5 426.4,193.7 427.4,191.7 428.4,187.4 429.4,181.4 430.4,189.5 431.4,193.9 432.4,182.2 433.4,193.2 434.4,179.5 435.4,180.9 436.4,186.7 437.4,183.5 438.4,186.6 439.4,178.8 440.4,163.0 441.4,181.0 442.4,175.5 443.4,176.0 444.4,174.0 445.4,183.0 446.4,178.0 447.4,171.2 448.4,194.6 449.4,177.6 450.4,175.7 451.4,189.1 452.4,189.1 453.4,177.5 454.4,176.4 455.4,179.4 456.4,191.2 457.4,184.4 458.4,182.5 459.4,187.4 460.4,194.6 461.4,182.0 462.4,188.2 463.4,183.9 464.4,203.4 465.4,202.6 466.4,199.1 467.4,194.5 468.4,199.7 469.4,186.5 470.4,199.9 471.4,192.7 472.4,193.9 473.4,198.2 474.4,201.2 475.4,207.1 476.4,208.9 477.4,207.8 478.4,202.6 479.4,212.1 480.4,209.1 481.4,216.9 482.4,207.1 483.4,198.5 484.4,211.4 485.4,226.1 486.4,218.3 487.4,215.8 488.4,222.4 489.4,221.3 490.4,221.9 491.4,217.7 492.4,221.6 493.4,223.0 494.4,219.4 495.4,217.7 496.4,224.9 497.4,229.9 498.4,228.9 499.4,228.7 500.4,229.3 501.4,240.7 502.4,229.2 503.4,233.8 504.4,239.0 505.4,229.5 506.4,231.1 507.4,235.5 508.4,239.3 509.4,232.5 510.4,233.1 511.4,232.0 512.4,225.6 513.4,237.9 514.4,231.1 515.4,223.7 516.4,232.1 517.4,224.1 518.4,228.1 519.4,233.6 520.4,228.9 521.4,239.4 522.4,226.3 523.4,235.5 524.4,237.1 525.4,242.0 526.4,239.3 527.4,235.8 528.4,235.1 529.4,234.4 530.4,240.7 531.4,231.5 532.4,237.7 533.4,234.5 534.4,236.3 535.4,233.8 536.4,246.3 537.4,231.8 538.4,236.6 539.4,236.7" fill="none" stroke="#0a0a0a" stroke-width="1.35" stroke-linejoin="round"/>
<line x1="332.8" y1="13.8" x2="539.8" y2="13.8" stroke="#2a2a2a" stroke-width="1.0"/>
<line x1="332.8" y1="271.2" x2="539.8" y2="271.2" stroke="#2a2a2a" stroke-width="1.0"/>
<line x1="332.8" y1="13.8" x2="332.8" y2="271.2" stroke="#2a2a2a" stroke-width="1.0"/>
<line x1="539.8" y1="13.8" x2="539.8" y2="271.2" stroke="#2a2a2a" stroke-width="1.0"/>
<line x1="332.8" y1="142.0" x2="539.8" y2="142.0" stroke="#666" stroke-width="1.2"/>
<path d="M436.5,13.8v3M384.8,13.8v2M488.2,13.8v2" stroke="#2a2a2a" stroke-width="1" fill="none"/>
<path d="M436.5,142.0v-3M384.8,142.0v-2M488.2,142.0v-2" stroke="#2a2a2a" stroke-width="1" fill="none"/>
<path d="M436.5,271.2v-3M384.8,271.2v-2M488.2,271.2v-2" stroke="#2a2a2a" stroke-width="1" fill="none"/>
<path d="M332.8,140.1h3M539.8,140.1h-3M332.8,107.7h3M539.8,107.7h-3M332.8,75.3h3M539.8,75.3h-3M332.8,42.9h3M539.8,42.9h-3M332.8,123.9h2M539.8,123.9h-2M332.8,91.5h2M539.8,91.5h-2M332.8,59.1h2M539.8,59.1h-2M332.8,26.7h2M539.8,26.7h-2" stroke="#2a2a2a" stroke-width="1" fill="none"/>
<path d="M332.8,251.6h3M539.8,251.6h-3M332.8,219.1h3M539.8,219.1h-3M332.8,186.6h3M539.8,186.6h-3M332.8,154.1h3M539.8,154.1h-3M332.8,267.9h2M539.8,267.9h-2M332.8,235.3h2M539.8,235.3h-2M332.8,202.8h2M539.8,202.8h-2M332.8,170.3h2M539.8,170.3h-2" stroke="#2a2a2a" stroke-width="1" fill="none"/>
<text transform="translate(333.0,8.4) scale(1.000,1)" font-family="Liberation Sans" font-size="8.50" font-weight="normal" text-anchor="middle" fill="#1a1a1a" stroke="#1a1a1a" stroke-width="0.3">525</text>
<text transform="translate(333.0,280.8) scale(1.000,1)" font-family="Liberation Sans" font-size="8.50" font-weight="normal" text-anchor="middle" fill="#1a1a1a" stroke="#1a1a1a" stroke-width="0.3">525</text>
<text transform="translate(436.5,8.4) scale(1.000,1)" font-family="Liberation Sans" font-size="8.50" font-weight="normal" text-anchor="middle" fill="#1a1a1a" stroke="#1a1a1a" stroke-width="0.3">530</text>
<text transform="translate(436.5,280.8) scale(1.000,1)" font-family="Liberation Sans" font-size="8.50" font-weight="normal" text-anchor="middle" fill="#1a1a1a" stroke="#1a1a1a" stroke-width="0.3">530</text>
<text transform="translate(540.0,8.4) scale(1.000,1)" font-family="Liberation Sans" font-size="8.50" font-weight="normal" text-anchor="middle" fill="#1a1a1a" stroke="#1a1a1a" stroke-width="0.3">535</text>
<text transform="translate(540.0,280.8) scale(1.000,1)" font-family="Liberation Sans" font-size="8.50" font-weight="normal" text-anchor="middle" fill="#1a1a1a" stroke="#1a1a1a" stroke-width="0.3">535</text>
<text transform="translate(328.5,142.7) scale(1.000,1)" font-family="Liberation Sans" font-size="8.50" font-weight="normal" text-anchor="end" fill="#1a1a1a" stroke="#1a1a1a" stroke-width="0.3">240</text>
<text transform="translate(328.5,110.3) scale(1.000,1)" font-family="Liberation Sans" font-size="8.50" font-weight="normal" text-anchor="end" fill="#1a1a1a" stroke="#1a1a1a" stroke-width="0.3">288</text>
<text transform="translate(328.5,77.9) scale(1.000,1)" font-family="Liberation Sans" font-size="8.50" font-weight="normal" text-anchor="end" fill="#1a1a1a" stroke="#1a1a1a" stroke-width="0.3">336</text>
<text transform="translate(328.5,45.5) scale(1.000,1)" font-family="Liberation Sans" font-size="8.50" font-weight="normal" text-anchor="end" fill="#1a1a1a" stroke="#1a1a1a" stroke-width="0.3">384</text>
<text transform="translate(328.5,254.2) scale(1.000,1)" font-family="Liberation Sans" font-size="8.50" font-weight="normal" text-anchor="end" fill="#1a1a1a" stroke="#1a1a1a" stroke-width="0.3">240</text>
<text transform="translate(328.5,221.7) scale(1.000,1)" font-family="Liberation Sans" font-size="8.50" font-weight="normal" text-anchor="end" fill="#1a1a1a" stroke="#1a1a1a" stroke-width="0.3">300</text>
<text transform="translate(328.5,189.2) scale(1.000,1)" font-family="Liberation Sans" font-size="8.50" font-weight="normal" text-anchor="end" fill="#1a1a1a" stroke="#1a1a1a" stroke-width="0.3">360</text>
<text transform="translate(328.5,156.7) scale(1.000,1)" font-family="Liberation Sans" font-size="8.50" font-weight="normal" text-anchor="end" fill="#1a1a1a" stroke="#1a1a1a" stroke-width="0.3">420</text>
<text transform="translate(310.0,87.2) scale(1.25,1) rotate(-90)" font-family="Liberation Sans" font-size="8.75" text-anchor="middle" fill="#1a1a1a" stroke="#1a1a1a" stroke-width="0.25">Intensity (a.u.)</text>
<text transform="translate(310.0,212) scale(1.25,1) rotate(-90)" font-family="Liberation Sans" font-size="8.75" text-anchor="middle" fill="#1a1a1a" stroke="#1a1a1a" stroke-width="0.25">Intensity (a.u.)</text>
<text transform="translate(442.5,289.5) scale(1.185,1)" font-family="Liberation Sans" font-size="8.90" font-weight="normal" text-anchor="middle" fill="#1a1a1a" stroke="#1a1a1a" stroke-width="0.3">Binding energy (eV)</text>
<text x="424.8" y="307.6" font-family="Liberation Serif" font-size="12.8" font-weight="bold" text-anchor="middle" fill="#1a1a1a" stroke="#1a1a1a" stroke-width="0.3">(d)</text>
<text transform="translate(412.4,25.0) scale(1.079,1)" font-family="Liberation Sans" font-size="9.53" font-weight="bold" text-anchor="start" fill="#1a1a1a" stroke="#1a1a1a" stroke-width="0.22">TC 41</text>
<text transform="translate(506.6,32.0) scale(1.079,1)" font-family="Liberation Sans" font-size="9.65" font-weight="bold" text-anchor="start" fill="#1a1a1a" stroke="#1a1a1a" stroke-width="0.22">O 1s</text>
<text transform="translate(352.2,44.4) scale(1.079,1)" font-family="Liberation Sans" font-size="9.65" font-weight="normal" text-anchor="start" fill="#1a1a1a" stroke="#1a1a1a" stroke-width="0.3">Lattice oxygen</text>
<line x1="417.8" y1="45.6" x2="453.5" y2="55.2" stroke="#111" stroke-width="0.9"/>
<polygon points="453.5,55.2 449.9,52.3 449.0,55.9" fill="#111"/>
<text transform="translate(359.5,71.4) scale(1.079,1)" font-family="Liberation Sans" font-size="9.65" font-weight="normal" text-anchor="start" fill="#1a1a1a" stroke="#1a1a1a" stroke-width="0.3">Ag-O</text>
<line x1="384.1" y1="74.4" x2="411.7" y2="81.0" stroke="#111" stroke-width="0.9"/>
<polygon points="411.7,81.0 408.1,78.2 407.2,81.9" fill="#111"/>
<text transform="translate(344.5,158.7) scale(1.079,1)" font-family="Liberation Sans" font-size="9.78" font-weight="bold" text-anchor="start" fill="#1a1a1a" stroke="#1a1a1a" stroke-width="0.22">TC 41 after 2 photocatalytic runs</text>
<text transform="translate(508.0,175.7) scale(1.079,1)" font-family="Liberation Sans" font-size="9.65" font-weight="bold" text-anchor="start" fill="#1a1a1a" stroke="#1a1a1a" stroke-width="0.22">O 1s</text>
<text transform="translate(357.0,187.0) scale(1.079,1)" font-family="Liberation Sans" font-size="9.65" font-weight="normal" text-anchor="start" fill="#1a1a1a" stroke="#1a1a1a" stroke-width="0.3">Lattice oxygen</text>
</svg></body></html>
